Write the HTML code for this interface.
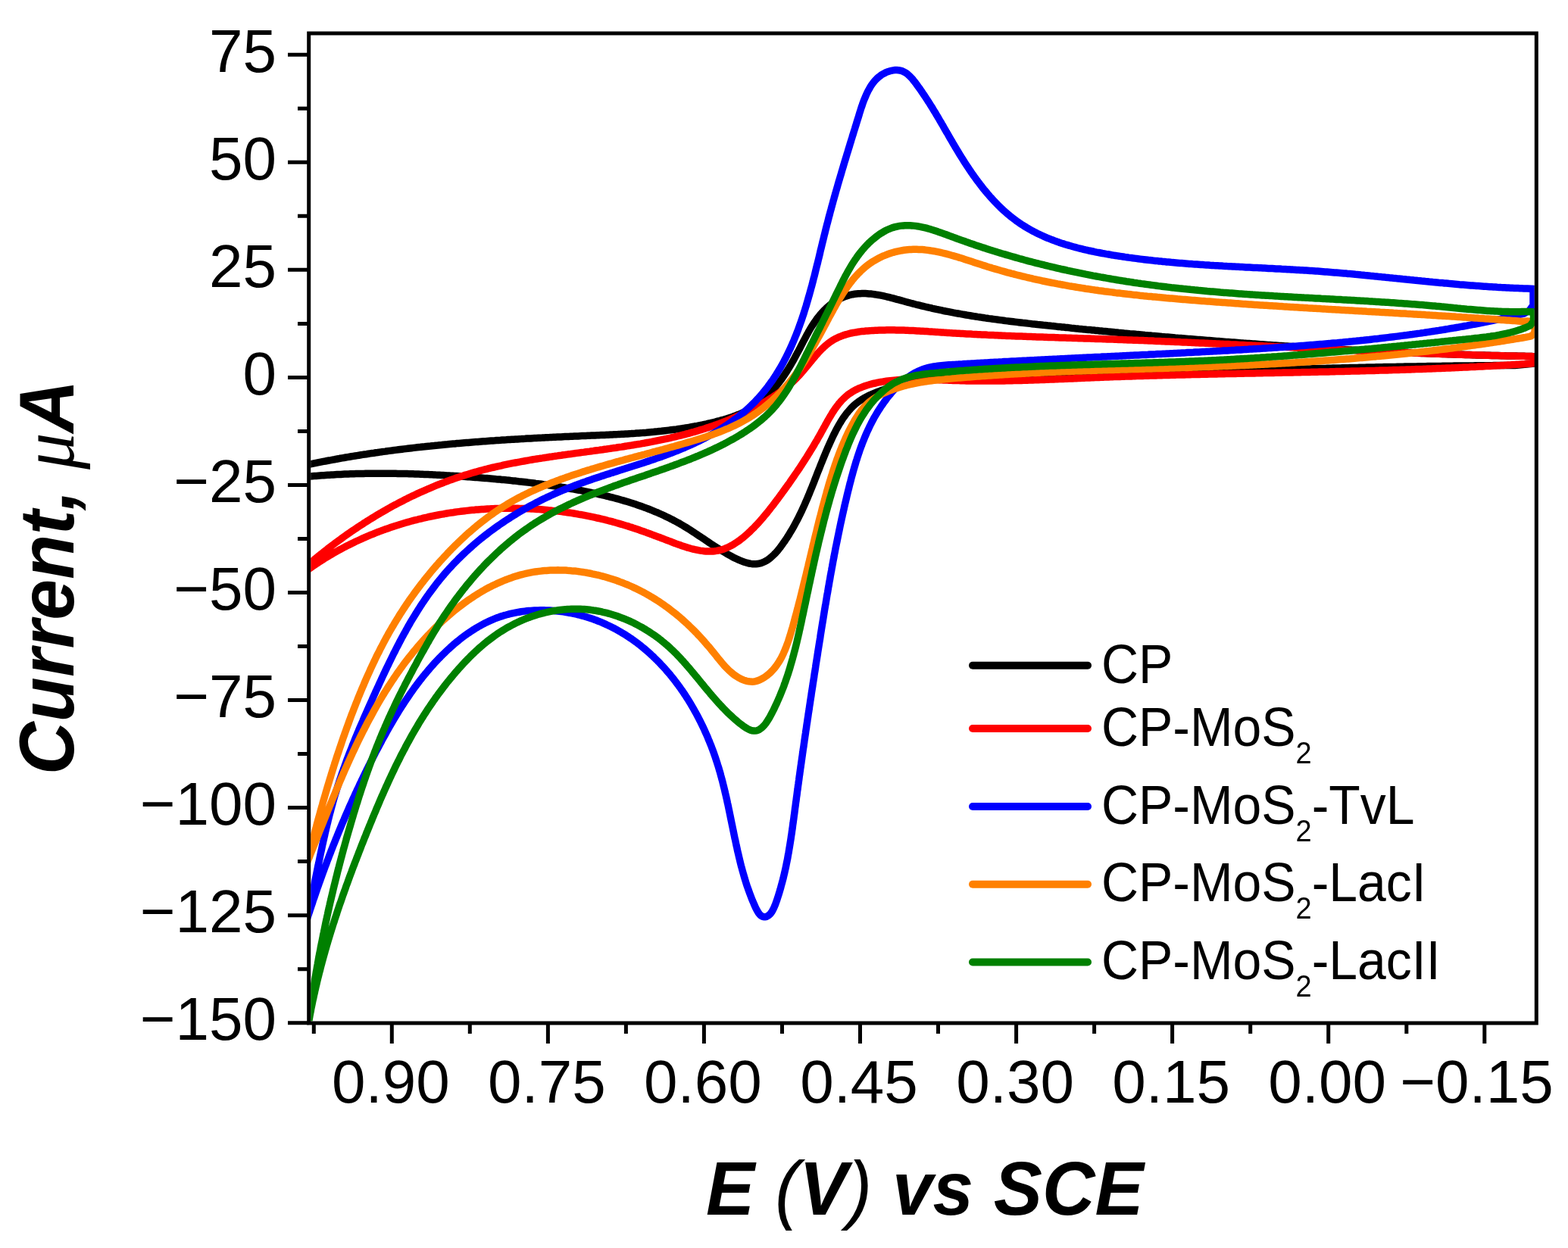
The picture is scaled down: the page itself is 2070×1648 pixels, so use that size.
<!DOCTYPE html><html><head><meta charset="utf-8"><title>Cyclic voltammograms</title>
<style>html,body{margin:0;padding:0;background:#fff;}body{width:2070px;height:1648px;overflow:hidden;}svg{display:block;}text{font-family:"Liberation Sans",Arial,sans-serif;}</style></head><body>
<svg xmlns="http://www.w3.org/2000/svg" width="2070" height="1648" viewBox="0 0 2070 1648">
<rect width="2070" height="1648" fill="#fff"/>
<defs><clipPath id="pc"><rect x="410.2" y="46.5" width="1615.6" height="1302.0"/></clipPath></defs>
<g clip-path="url(#pc)" fill="none" stroke-width="9.5" stroke-linejoin="miter" stroke-miterlimit="4" stroke-linecap="butt">
<path stroke="#000000" d="M395.0,616.0L397.5,615.5 399.9,614.9 402.4,614.4 404.8,613.9 407.3,613.4 409.7,612.9 412.2,612.4 414.6,611.9 417.1,611.4 419.5,610.9 422.0,610.4 424.5,609.9 426.9,609.4 429.4,609.0 431.8,608.5 434.3,608.0 436.8,607.6 439.2,607.1 441.7,606.7 444.2,606.2 446.6,605.8 449.1,605.3 451.6,604.9 454.0,604.5 456.5,604.0 459.0,603.6 461.4,603.2 463.9,602.8 466.4,602.4 468.8,602.0 471.3,601.6 473.8,601.2 476.3,600.8 478.7,600.4 481.2,600.0 483.7,599.7 486.2,599.3 488.6,598.9 491.1,598.5 493.6,598.2 496.1,597.8 498.6,597.5 501.0,597.1 503.5,596.8 506.0,596.4 508.5,596.1 511.0,595.7 513.4,595.4 515.9,595.1 518.4,594.8 520.9,594.4 523.4,594.1 525.9,593.8 528.3,593.5 530.8,593.2 533.3,592.9 535.8,592.6 538.3,592.3 540.8,592.0 543.3,591.7 545.8,591.4 548.2,591.1 550.7,590.8 553.2,590.6 555.7,590.3 558.2,590.0 560.7,589.8 563.2,589.5 565.7,589.2 568.2,589.0 570.7,588.7 573.2,588.5 575.6,588.2 578.1,588.0 580.6,587.7 583.1,587.5 585.6,587.2 588.1,587.0 590.6,586.8 593.1,586.5 595.6,586.3 598.1,586.1 600.6,585.9 603.1,585.6 605.6,585.4 608.1,585.2 610.6,585.0 613.1,584.8 615.6,584.6 618.1,584.4 620.6,584.2 623.1,584.0 625.6,583.8 628.1,583.6 630.6,583.4 633.1,583.2 635.6,583.0 638.1,582.8 640.6,582.7 643.1,582.5 645.6,582.3 648.1,582.1 650.6,581.9 653.1,581.8 655.6,581.6 658.1,581.4 660.6,581.3 663.1,581.1 665.6,580.9 668.1,580.8 670.6,580.6 673.1,580.5 675.6,580.3 678.1,580.2 680.6,580.0 683.1,579.9 685.6,579.7 688.1,579.6 690.6,579.4 693.1,579.3 695.6,579.1 698.1,579.0 700.6,578.9 703.1,578.7 705.6,578.6 708.1,578.5 710.7,578.3 713.2,578.2 715.7,578.1 718.2,577.9 720.7,577.8 723.2,577.7 725.7,577.6 728.2,577.4 730.7,577.3 733.2,577.2 735.7,577.1 738.2,577.0 740.7,576.9 743.2,576.7 745.7,576.6 748.2,576.5 750.7,576.4 753.2,576.3 755.7,576.2 758.2,576.1 760.7,576.0 763.2,575.9 765.7,575.7 768.2,575.6 770.7,575.5 773.2,575.4 775.7,575.3 778.2,575.2 780.7,575.1 783.2,575.0 785.7,574.9 788.2,574.8 790.7,574.7 793.2,574.6 795.7,574.5 798.2,574.4 800.7,574.3 803.2,574.2 805.7,574.0 808.2,573.9 810.7,573.8 813.2,573.7 815.7,573.6 818.2,573.4 820.7,573.3 823.2,573.2 825.7,573.0 828.2,572.9 830.7,572.7 833.2,572.6 835.7,572.4 838.2,572.3 840.7,572.1 843.2,571.9 845.7,571.7 848.2,571.6 850.7,571.4 853.2,571.2 855.7,570.9 858.2,570.7 860.7,570.5 863.1,570.3 865.6,570.0 868.1,569.8 870.6,569.5 873.1,569.3 875.6,569.0 878.1,568.7 880.6,568.4 883.1,568.1 885.5,567.8 888.0,567.5 890.5,567.2 893.0,566.9 895.5,566.5 898.0,566.1 900.5,565.8 902.9,565.4 905.4,565.0 907.9,564.6 910.4,564.2 912.9,563.7 915.3,563.3 917.8,562.8 920.3,562.4 922.8,561.9 925.3,561.4 927.7,560.9 930.2,560.3 932.7,559.8 935.2,559.2 937.6,558.7 940.1,558.1 942.6,557.5 945.0,556.9 947.5,556.2 950.0,555.6 952.4,554.9 954.9,554.2 957.3,553.5 959.7,552.8 962.1,552.0 964.5,551.2 966.9,550.4 969.3,549.5 971.6,548.7 974.0,547.7 976.3,546.8 978.6,545.8 980.8,544.8 983.1,543.7 985.3,542.7 987.5,541.5 989.6,540.4 991.7,539.1 993.8,537.9 995.9,536.6 997.9,535.2 999.9,533.9 1001.8,532.4 1003.8,530.9 1005.6,529.4 1007.5,527.9 1009.3,526.3 1011.1,524.6 1012.9,523.0 1014.6,521.3 1016.3,519.5 1018.0,517.8 1019.6,515.9 1021.3,514.1 1022.9,512.2 1024.4,510.3 1026.0,508.4 1027.5,506.4 1029.0,504.4 1030.5,502.4 1032.0,500.4 1033.4,498.3 1034.8,496.3 1036.2,494.1 1037.6,492.0 1039.0,489.9 1040.3,487.7 1041.7,485.5 1043.0,483.3 1044.3,481.1 1045.6,478.9 1046.9,476.6 1048.1,474.4 1049.4,472.1 1050.6,469.8 1051.8,467.6 1053.0,465.3 1054.3,463.0 1055.5,460.7 1056.7,458.3 1057.9,456.0 1059.1,453.7 1060.3,451.4 1061.5,449.1 1062.7,446.9 1063.9,444.6 1065.1,442.3 1066.4,440.1 1067.6,437.8 1068.9,435.6 1070.2,433.4 1071.5,431.3 1072.9,429.1 1074.3,427.0 1075.7,424.9 1077.1,422.9 1078.5,420.9 1080.0,418.9 1081.6,417.0 1083.1,415.0 1084.8,413.2 1086.4,411.4 1088.1,409.6 1089.9,407.9 1091.6,406.2 1093.5,404.6 1095.4,403.0 1097.3,401.5 1099.3,400.1 1101.4,398.7 1103.5,397.4 1105.6,396.1 1107.8,395.0 1110.0,393.9 1112.3,392.9 1114.5,391.9 1116.8,391.1 1119.1,390.4 1121.4,389.7 1123.7,389.2 1126.0,388.7 1128.3,388.3 1130.7,388.0 1133.0,387.8 1135.4,387.7 1137.8,387.6 1140.1,387.6 1142.5,387.6 1144.9,387.7 1147.3,387.9 1149.7,388.1 1152.2,388.4 1154.6,388.7 1157.0,389.1 1159.5,389.5 1161.9,389.9 1164.4,390.4 1166.8,390.9 1169.3,391.5 1171.7,392.1 1174.2,392.7 1176.7,393.3 1179.1,393.9 1181.6,394.6 1184.1,395.3 1186.6,395.9 1189.1,396.6 1191.5,397.3 1194.0,398.0 1196.5,398.7 1199.0,399.4 1201.5,400.0 1204.0,400.7 1206.4,401.3 1208.9,402.0 1211.4,402.6 1213.9,403.2 1216.4,403.8 1218.8,404.4 1221.3,405.0 1223.8,405.6 1226.3,406.2 1228.8,406.7 1231.2,407.3 1233.7,407.8 1236.2,408.4 1238.7,408.9 1241.1,409.4 1243.6,409.9 1246.1,410.5 1248.6,411.0 1251.0,411.4 1253.5,411.9 1256.0,412.4 1258.5,412.9 1260.9,413.3 1263.4,413.8 1265.9,414.2 1268.4,414.7 1270.8,415.1 1273.3,415.5 1275.8,416.0 1278.3,416.4 1280.7,416.8 1283.2,417.2 1285.7,417.6 1288.1,418.0 1290.6,418.4 1293.1,418.7 1295.6,419.1 1298.0,419.5 1300.5,419.9 1303.0,420.2 1305.5,420.6 1307.9,420.9 1310.4,421.3 1312.9,421.6 1315.3,421.9 1317.8,422.3 1320.3,422.6 1322.8,422.9 1325.2,423.2 1327.7,423.6 1330.2,423.9 1332.7,424.2 1335.1,424.5 1337.6,424.8 1340.1,425.1 1342.6,425.4 1345.0,425.7 1347.5,426.0 1350.0,426.3 1352.5,426.5 1354.9,426.8 1357.4,427.1 1359.9,427.4 1362.4,427.7 1364.8,427.9 1367.3,428.2 1369.8,428.5 1372.3,428.7 1374.7,429.0 1377.2,429.3 1379.7,429.5 1382.2,429.8 1384.6,430.1 1387.1,430.3 1389.6,430.6 1392.1,430.8 1394.6,431.1 1397.0,431.4 1399.5,431.6 1402.0,431.9 1404.5,432.1 1407.0,432.4 1409.4,432.6 1411.9,432.9 1414.4,433.2 1416.9,433.4 1419.4,433.7 1421.9,433.9 1424.3,434.2 1426.8,434.4 1429.3,434.7 1431.8,434.9 1434.3,435.2 1436.8,435.4 1439.2,435.6 1441.7,435.9 1444.2,436.1 1446.7,436.4 1449.2,436.6 1451.7,436.9 1454.2,437.1 1456.7,437.4 1459.1,437.6 1461.6,437.8 1464.1,438.1 1466.6,438.3 1469.1,438.5 1471.6,438.8 1474.1,439.0 1476.6,439.3 1479.1,439.5 1481.5,439.7 1484.0,440.0 1486.5,440.2 1489.0,440.4 1491.5,440.7 1494.0,440.9 1496.5,441.1 1499.0,441.3 1501.5,441.6 1504.0,441.8 1506.5,442.0 1509.0,442.2 1511.5,442.5 1513.9,442.7 1516.4,442.9 1518.9,443.1 1521.4,443.4 1523.9,443.6 1526.4,443.8 1528.9,444.0 1531.4,444.2 1533.9,444.5 1536.4,444.7 1538.9,444.9 1541.4,445.1 1543.9,445.3 1546.4,445.5 1548.9,445.7 1551.4,446.0 1553.9,446.2 1556.4,446.4 1558.9,446.6 1561.4,446.8 1563.9,447.0 1566.4,447.2 1568.9,447.4 1571.4,447.6 1573.9,447.8 1576.4,448.0 1578.9,448.2 1581.4,448.4 1583.9,448.6 1586.4,448.8 1588.9,449.0 1591.4,449.2 1593.9,449.4 1596.4,449.6 1598.9,449.8 1601.4,450.0 1603.9,450.2 1606.4,450.4 1608.9,450.6 1611.4,450.8 1613.9,451.0 1616.4,451.2 1618.9,451.4 1621.4,451.6 1623.9,451.8 1626.4,452.0 1628.9,452.1 1631.4,452.3 1633.9,452.5 1636.4,452.7 1638.9,452.9 1641.4,453.1 1643.9,453.2 1646.4,453.4 1648.9,453.6 1651.4,453.8 1653.9,454.0 1656.4,454.1 1658.9,454.3 1661.4,454.5 1663.9,454.7 1666.4,454.8 1668.9,455.0 1671.4,455.2 1674.0,455.4 1676.5,455.5 1679.0,455.7 1681.5,455.9 1684.0,456.0 1686.5,456.2 1689.0,456.4 1691.5,456.5 1694.0,456.7 1696.5,456.9 1699.0,457.0 1701.5,457.2 1704.0,457.4 1706.5,457.5 1709.0,457.7 1711.5,457.8 1714.0,458.0 1716.5,458.2 1719.1,458.3 1721.6,458.5 1724.1,458.6 1726.6,458.8 1729.1,458.9 1731.6,459.1 1734.1,459.2 1736.6,459.4 1739.1,459.5 1741.6,459.7 1744.1,459.8 1746.6,460.0 1749.1,460.1 1751.6,460.3 1754.1,460.4 1756.6,460.6 1759.2,460.7 1761.7,460.8 1764.2,461.0 1766.7,461.1 1769.2,461.3 1771.7,461.4 1774.2,461.5 1776.7,461.7 1779.2,461.8 1781.7,461.9 1784.2,462.1 1786.7,462.2 1789.2,462.3 1791.7,462.5 1794.2,462.6 1796.8,462.7 1799.3,462.9 1801.8,463.0 1804.3,463.1 1806.8,463.2 1809.3,463.4 1811.8,463.5 1814.3,463.6 1816.8,463.7 1819.3,463.9 1821.8,464.0 1824.3,464.1 1826.8,464.2 1829.3,464.3 1831.8,464.4 1834.4,464.6 1836.9,464.7 1839.4,464.8 1841.9,464.9 1844.4,465.0 1846.9,465.1 1849.4,465.2 1851.9,465.3 1854.4,465.5 1856.9,465.6 1859.4,465.7 1861.9,465.8 1864.4,465.9 1866.9,466.0 1869.4,466.1 1871.9,466.2 1874.4,466.3 1876.9,466.4 1879.5,466.5 1882.0,466.6 1884.5,466.7 1887.0,466.8 1889.5,466.9 1892.0,467.0 1894.5,467.1 1897.0,467.1 1899.5,467.2 1902.0,467.3 1904.5,467.4 1907.0,467.5 1909.5,467.6 1912.0,467.7 1914.5,467.8 1917.0,467.8 1919.5,467.9 1922.0,468.0 1924.5,468.1 1927.0,468.2 1929.5,468.3 1932.0,468.3 1934.5,468.4 1937.0,468.5 1939.5,468.6 1942.0,468.6 1944.5,468.7 1947.0,468.8 1949.5,468.9 1952.0,468.9 1954.5,469.0 1957.0,469.1 1959.5,469.1 1962.0,469.2 1964.5,469.3 1967.0,469.3 1969.5,469.4 1972.0,469.5 1974.5,469.5 1977.0,469.6 1979.5,469.6 1982.0,469.7 1984.5,469.8 1987.0,469.8 1989.5,469.9 1992.0,469.9 1994.5,470.0 1997.0,470.0 1999.5,470.1 2002.0,470.1 2004.5,470.2 2007.0,470.2 2009.5,470.3 2012.0,470.3 2014.5,470.4 2017.0,470.4 2019.5,470.5 2022.0,470.5 2026.0,471.0 2026.0,480.0 2000.0,482.5 1997.5,482.5 1995.0,482.5 1992.5,482.5 1989.9,482.5 1987.4,482.6 1984.9,482.6 1982.4,482.6 1979.9,482.6 1977.4,482.6 1974.8,482.6 1972.3,482.6 1969.8,482.7 1967.3,482.7 1964.8,482.7 1962.3,482.7 1959.8,482.7 1957.3,482.8 1954.7,482.8 1952.2,482.8 1949.7,482.8 1947.2,482.8 1944.7,482.9 1942.2,482.9 1939.7,482.9 1937.2,482.9 1934.7,483.0 1932.2,483.0 1929.6,483.0 1927.1,483.0 1924.6,483.1 1922.1,483.1 1919.6,483.1 1917.1,483.2 1914.6,483.2 1912.1,483.2 1909.6,483.3 1907.1,483.3 1904.6,483.3 1902.1,483.4 1899.6,483.4 1897.0,483.4 1894.5,483.5 1892.0,483.5 1889.5,483.5 1887.0,483.6 1884.5,483.6 1882.0,483.7 1879.5,483.7 1877.0,483.7 1874.5,483.8 1872.0,483.8 1869.5,483.9 1867.0,483.9 1864.5,483.9 1862.0,484.0 1859.5,484.0 1857.0,484.1 1854.5,484.1 1852.0,484.2 1849.5,484.2 1847.0,484.3 1844.5,484.3 1842.0,484.4 1839.5,484.4 1837.0,484.4 1834.5,484.5 1832.0,484.5 1829.4,484.6 1826.9,484.6 1824.4,484.7 1821.9,484.7 1819.4,484.8 1816.9,484.8 1814.4,484.9 1811.9,484.9 1809.4,485.0 1806.9,485.1 1804.4,485.1 1801.9,485.2 1799.4,485.2 1796.9,485.3 1794.4,485.3 1791.9,485.4 1789.4,485.4 1786.9,485.5 1784.4,485.6 1781.9,485.6 1779.4,485.7 1776.9,485.7 1774.5,485.8 1772.0,485.8 1769.5,485.9 1767.0,486.0 1764.5,486.0 1762.0,486.1 1759.5,486.1 1757.0,486.2 1754.5,486.3 1752.0,486.3 1749.5,486.4 1747.0,486.5 1744.5,486.5 1742.0,486.6 1739.5,486.6 1737.0,486.7 1734.5,486.8 1732.0,486.8 1729.5,486.9 1727.0,487.0 1724.5,487.0 1722.0,487.1 1719.5,487.2 1717.0,487.2 1714.5,487.3 1712.0,487.4 1709.5,487.4 1707.0,487.5 1704.5,487.6 1702.0,487.6 1699.5,487.7 1697.0,487.8 1694.5,487.8 1692.0,487.9 1689.5,488.0 1687.0,488.0 1684.5,488.1 1682.0,488.2 1679.5,488.2 1677.1,488.3 1674.6,488.4 1672.1,488.4 1669.6,488.5 1667.1,488.6 1664.6,488.7 1662.1,488.7 1659.6,488.8 1657.1,488.9 1654.6,488.9 1652.1,489.0 1649.6,489.1 1647.1,489.2 1644.6,489.2 1642.1,489.3 1639.6,489.4 1637.1,489.4 1634.6,489.5 1632.1,489.6 1629.6,489.7 1627.1,489.7 1624.6,489.8 1622.1,489.9 1619.6,490.0 1617.1,490.0 1614.6,490.1 1612.1,490.2 1609.6,490.2 1607.1,490.3 1604.6,490.4 1602.1,490.5 1599.6,490.5 1597.1,490.6 1594.6,490.7 1592.2,490.8 1589.7,490.8 1587.2,490.9 1584.7,491.0 1582.2,491.1 1579.7,491.1 1577.2,491.2 1574.7,491.3 1572.2,491.4 1569.7,491.4 1567.2,491.5 1564.7,491.6 1562.2,491.7 1559.7,491.7 1557.2,491.8 1554.7,491.9 1552.2,492.0 1549.7,492.0 1547.2,492.1 1544.7,492.2 1542.2,492.3 1539.7,492.3 1537.2,492.4 1534.7,492.5 1532.2,492.5 1529.7,492.6 1527.2,492.7 1524.7,492.8 1522.2,492.8 1519.7,492.9 1517.2,493.0 1514.7,493.1 1512.2,493.1 1509.7,493.2 1507.2,493.3 1504.7,493.4 1502.2,493.4 1499.7,493.5 1497.2,493.6 1494.7,493.7 1492.1,493.7 1489.6,493.8 1487.1,493.9 1484.6,493.9 1482.1,494.0 1479.6,494.1 1477.1,494.2 1474.6,494.2 1472.1,494.3 1469.6,494.4 1467.1,494.5 1464.6,494.5 1462.1,494.6 1459.6,494.7 1457.1,494.7 1454.6,494.8 1452.1,494.9 1449.6,495.0 1447.1,495.0 1444.6,495.1 1442.1,495.2 1439.6,495.2 1437.0,495.3 1434.5,495.4 1432.0,495.4 1429.5,495.5 1427.0,495.6 1424.5,495.6 1422.0,495.7 1419.5,495.8 1417.0,495.9 1414.5,495.9 1412.0,496.0 1409.5,496.1 1406.9,496.1 1404.4,496.2 1401.9,496.3 1399.4,496.3 1396.9,496.4 1394.4,496.5 1391.9,496.5 1389.4,496.6 1386.9,496.6 1384.3,496.7 1381.8,496.8 1379.3,496.8 1376.8,496.9 1374.3,497.0 1371.8,497.0 1369.3,497.1 1366.8,497.2 1364.2,497.2 1361.7,497.3 1359.2,497.3 1356.7,497.4 1354.2,497.5 1351.7,497.5 1349.1,497.6 1346.6,497.6 1344.1,497.7 1341.6,497.8 1339.1,497.8 1336.6,497.9 1334.0,497.9 1331.5,498.0 1329.0,498.1 1326.5,498.1 1324.0,498.2 1321.5,498.2 1318.9,498.3 1316.4,498.3 1313.9,498.4 1311.4,498.4 1308.9,498.5 1306.3,498.6 1303.8,498.6 1301.3,498.7 1298.8,498.7 1296.2,498.8 1293.7,498.8 1291.2,498.9 1288.7,498.9 1286.2,499.0 1283.6,499.0 1281.1,499.1 1278.6,499.2 1276.1,499.2 1273.5,499.3 1271.0,499.4 1268.5,499.5 1266.0,499.6 1263.5,499.7 1261.0,499.8 1258.5,499.9 1255.9,500.0 1253.4,500.1 1250.9,500.3 1248.4,500.4 1245.9,500.6 1243.4,500.7 1240.9,500.9 1238.4,501.1 1235.9,501.3 1233.5,501.5 1231.0,501.8 1228.5,502.0 1226.0,502.3 1223.5,502.5 1221.1,502.8 1218.6,503.1 1216.1,503.4 1213.7,503.8 1211.2,504.1 1208.8,504.5 1206.3,504.9 1203.9,505.3 1201.4,505.8 1199.0,506.2 1196.6,506.7 1194.1,507.2 1191.7,507.7 1189.3,508.2 1186.9,508.8 1184.5,509.4 1182.1,510.0 1179.7,510.6 1177.3,511.3 1174.9,511.9 1172.6,512.6 1170.2,513.4 1167.8,514.1 1165.5,514.9 1163.1,515.7 1160.8,516.6 1158.5,517.5 1156.1,518.4 1153.8,519.3 1151.5,520.3 1149.3,521.3 1147.0,522.4 1144.8,523.5 1142.6,524.6 1140.5,525.9 1138.3,527.1 1136.3,528.4 1134.2,529.8 1132.3,531.3 1130.3,532.8 1128.4,534.3 1126.6,536.0 1124.9,537.7 1123.1,539.5 1121.5,541.3 1119.9,543.2 1118.3,545.1 1116.7,547.1 1115.3,549.1 1113.8,551.1 1112.4,553.2 1111.0,555.3 1109.7,557.5 1108.4,559.7 1107.1,561.9 1105.9,564.1 1104.6,566.4 1103.4,568.6 1102.3,570.9 1101.1,573.2 1100.0,575.5 1098.9,577.8 1097.8,580.1 1096.8,582.4 1095.7,584.8 1094.7,587.1 1093.6,589.4 1092.6,591.7 1091.6,594.1 1090.6,596.4 1089.6,598.7 1088.7,601.0 1087.7,603.4 1086.8,605.7 1085.8,608.0 1084.9,610.4 1083.9,612.7 1083.0,615.0 1082.1,617.4 1081.2,619.7 1080.2,622.0 1079.3,624.3 1078.4,626.7 1077.5,629.0 1076.6,631.3 1075.7,633.6 1074.8,635.9 1073.9,638.2 1072.9,640.6 1072.0,642.9 1071.1,645.2 1070.1,647.5 1069.2,649.8 1068.3,652.1 1067.3,654.4 1066.4,656.7 1065.4,659.0 1064.4,661.2 1063.4,663.5 1062.4,665.8 1061.4,668.1 1060.4,670.3 1059.3,672.6 1058.3,674.9 1057.2,677.1 1056.1,679.4 1055.0,681.6 1053.9,683.8 1052.8,686.1 1051.6,688.3 1050.4,690.5 1049.2,692.7 1048.0,694.9 1046.8,697.1 1045.5,699.3 1044.2,701.5 1042.9,703.7 1041.6,705.9 1040.2,708.0 1038.9,710.2 1037.4,712.3 1036.0,714.5 1034.5,716.6 1033.0,718.7 1031.5,720.8 1030.0,722.9 1028.4,724.9 1026.8,726.9 1025.1,728.8 1023.4,730.7 1021.7,732.4 1019.9,734.1 1018.1,735.7 1016.3,737.2 1014.5,738.6 1012.6,739.9 1010.6,741.0 1008.6,742.0 1006.6,742.9 1004.5,743.6 1002.4,744.2 1000.3,744.5 998.1,744.8 995.9,744.8 993.6,744.7 991.3,744.4 989.0,744.0 986.7,743.4 984.3,742.8 981.9,742.0 979.6,741.1 977.2,740.2 974.8,739.1 972.4,738.0 970.0,736.9 967.6,735.7 965.3,734.4 962.9,733.1 960.6,731.8 958.3,730.5 956.1,729.1 953.8,727.8 951.6,726.4 949.4,725.0 947.2,723.7 945.0,722.3 942.9,720.9 940.7,719.5 938.6,718.1 936.5,716.7 934.4,715.3 932.3,713.9 930.2,712.4 928.1,711.0 926.0,709.6 923.9,708.2 921.9,706.9 919.8,705.5 917.7,704.1 915.6,702.7 913.6,701.4 911.5,700.0 909.4,698.7 907.3,697.4 905.2,696.1 903.0,694.8 900.9,693.5 898.8,692.3 896.6,691.0 894.4,689.8 892.2,688.6 890.0,687.5 887.8,686.3 885.6,685.2 883.4,684.1 881.1,683.0 878.9,681.9 876.6,680.8 874.4,679.8 872.1,678.8 869.8,677.7 867.5,676.7 865.2,675.8 862.9,674.8 860.6,673.9 858.2,672.9 855.9,672.0 853.6,671.1 851.2,670.3 848.9,669.4 846.5,668.5 844.2,667.7 841.8,666.9 839.4,666.1 837.0,665.3 834.7,664.5 832.3,663.8 829.9,663.0 827.5,662.3 825.1,661.6 822.7,660.9 820.3,660.2 817.9,659.5 815.5,658.8 813.0,658.2 810.6,657.5 808.2,656.9 805.8,656.3 803.3,655.7 800.9,655.1 798.5,654.5 796.0,653.9 793.6,653.3 791.1,652.8 788.7,652.2 786.2,651.7 783.8,651.2 781.3,650.7 778.9,650.1 776.4,649.6 774.0,649.1 771.5,648.7 769.1,648.2 766.6,647.7 764.1,647.2 761.7,646.8 759.2,646.3 756.7,645.9 754.3,645.5 751.8,645.0 749.3,644.6 746.9,644.2 744.4,643.8 741.9,643.4 739.4,643.0 737.0,642.6 734.5,642.2 732.0,641.8 729.6,641.5 727.1,641.1 724.6,640.7 722.1,640.4 719.7,640.0 717.2,639.7 714.7,639.3 712.2,639.0 709.7,638.7 707.3,638.4 704.8,638.0 702.3,637.7 699.8,637.4 697.3,637.1 694.9,636.8 692.4,636.5 689.9,636.2 687.4,635.9 684.9,635.7 682.4,635.4 680.0,635.1 677.5,634.9 675.0,634.6 672.5,634.3 670.0,634.1 667.5,633.8 665.0,633.6 662.5,633.4 660.1,633.1 657.6,632.9 655.1,632.7 652.6,632.4 650.1,632.2 647.6,632.0 645.1,631.8 642.6,631.6 640.1,631.4 637.6,631.2 635.1,631.0 632.6,630.8 630.1,630.6 627.6,630.4 625.1,630.2 622.6,630.0 620.1,629.8 617.6,629.7 615.2,629.5 612.7,629.3 610.2,629.1 607.7,629.0 605.2,628.8 602.7,628.6 600.2,628.5 597.7,628.3 595.2,628.2 592.7,628.0 590.2,627.9 587.6,627.7 585.1,627.6 582.6,627.5 580.1,627.3 577.6,627.2 575.1,627.1 572.6,626.9 570.1,626.8 567.6,626.7 565.1,626.6 562.6,626.5 560.1,626.4 557.6,626.3 555.1,626.2 552.6,626.1 550.1,626.0 547.6,625.9 545.1,625.8 542.6,625.8 540.1,625.7 537.6,625.6 535.1,625.6 532.6,625.5 530.1,625.5 527.5,625.4 525.0,625.4 522.5,625.3 520.0,625.3 517.5,625.2 515.0,625.2 512.5,625.2 510.0,625.2 507.5,625.2 505.0,625.2 502.5,625.2 500.0,625.2 497.5,625.2 495.0,625.2 492.5,625.2 490.0,625.2 487.5,625.3 485.0,625.3 482.5,625.3 480.0,625.4 477.4,625.4 474.9,625.5 472.4,625.5 469.9,625.6 467.4,625.7 464.9,625.8 462.4,625.8 459.9,625.9 457.4,626.0 454.9,626.1 452.4,626.2 449.9,626.4 447.4,626.5 444.9,626.6 442.4,626.7 439.9,626.9 437.4,627.0 434.9,627.2 432.4,627.3 429.9,627.5 427.4,627.7 424.9,627.8 422.4,628.0 419.9,628.2 417.4,628.4 414.9,628.6 412.5,628.8 410.0,629.0 407.5,629.3 405.0,629.5 402.5,629.7 400.0,630.0 397.5,630.2 395.0,630.5"/>
<path stroke="#ff0000" d="M395.0,756.0L396.9,754.4 398.7,752.7 400.6,751.1 402.5,749.4 404.4,747.8 406.2,746.2 408.1,744.6 410.0,743.0 412.0,741.4 413.9,739.8 415.8,738.2 417.7,736.6 419.7,735.0 421.6,733.4 423.6,731.9 425.5,730.3 427.5,728.7 429.4,727.2 431.4,725.7 433.4,724.1 435.4,722.6 437.4,721.1 439.4,719.6 441.4,718.0 443.4,716.5 445.4,715.0 447.4,713.6 449.5,712.1 451.5,710.6 453.5,709.1 455.6,707.7 457.6,706.2 459.7,704.8 461.8,703.4 463.8,701.9 465.9,700.5 468.0,699.1 470.1,697.7 472.2,696.3 474.3,694.9 476.4,693.5 478.5,692.2 480.6,690.8 482.7,689.4 484.8,688.1 487.0,686.8 489.1,685.4 491.2,684.1 493.4,682.8 495.5,681.5 497.7,680.2 499.9,678.9 502.0,677.6 504.2,676.4 506.4,675.1 508.6,673.8 510.7,672.6 512.9,671.4 515.1,670.2 517.3,668.9 519.5,667.7 521.8,666.5 524.0,665.4 526.2,664.2 528.4,663.0 530.6,661.9 532.9,660.7 535.1,659.6 537.4,658.5 539.6,657.3 541.9,656.2 544.1,655.1 546.4,654.1 548.7,653.0 550.9,651.9 553.2,650.9 555.5,649.8 557.8,648.8 560.1,647.8 562.4,646.8 564.6,645.8 567.0,644.8 569.3,643.8 571.6,642.8 573.9,641.9 576.2,640.9 578.5,640.0 580.8,639.1 583.2,638.2 585.5,637.3 587.8,636.4 590.2,635.5 592.5,634.6 594.9,633.8 597.2,633.0 599.6,632.1 601.9,631.3 604.3,630.5 606.7,629.7 609.0,628.9 611.4,628.2 613.8,627.4 616.2,626.7 618.6,626.0 621.0,625.2 623.3,624.5 625.7,623.8 628.1,623.2 630.5,622.5 632.9,621.8 635.3,621.2 637.8,620.5 640.2,619.9 642.6,619.3 645.0,618.7 647.4,618.1 649.8,617.5 652.3,617.0 654.7,616.4 657.1,615.8 659.6,615.3 662.0,614.8 664.4,614.2 666.9,613.7 669.3,613.2 671.8,612.7 674.2,612.2 676.7,611.7 679.1,611.2 681.6,610.8 684.0,610.3 686.5,609.9 689.0,609.4 691.4,609.0 693.9,608.5 696.4,608.1 698.8,607.7 701.3,607.2 703.8,606.8 706.2,606.4 708.7,606.0 711.2,605.6 713.7,605.2 716.1,604.9 718.6,604.5 721.1,604.1 723.6,603.7 726.1,603.3 728.6,603.0 731.0,602.6 733.5,602.2 736.0,601.9 738.5,601.5 741.0,601.2 743.5,600.8 746.0,600.5 748.5,600.1 750.9,599.8 753.4,599.5 755.9,599.1 758.4,598.8 760.9,598.4 763.4,598.1 765.9,597.8 768.4,597.4 770.9,597.1 773.4,596.7 775.9,596.4 778.4,596.1 780.9,595.7 783.3,595.4 785.8,595.0 788.3,594.7 790.8,594.4 793.3,594.0 795.8,593.7 798.3,593.3 800.8,593.0 803.3,592.6 805.8,592.3 808.3,591.9 810.7,591.5 813.2,591.2 815.7,590.8 818.2,590.4 820.7,590.1 823.2,589.7 825.6,589.3 828.1,588.9 830.6,588.5 833.1,588.1 835.6,587.7 838.0,587.3 840.5,586.9 843.0,586.5 845.5,586.1 847.9,585.6 850.4,585.2 852.9,584.7 855.3,584.3 857.8,583.8 860.2,583.4 862.7,582.9 865.2,582.4 867.6,581.9 870.1,581.4 872.5,580.9 875.0,580.4 877.4,579.9 879.9,579.4 882.3,578.8 884.7,578.3 887.2,577.7 889.6,577.2 892.1,576.6 894.5,576.0 896.9,575.4 899.3,574.8 901.8,574.2 904.2,573.6 906.6,572.9 909.0,572.3 911.4,571.6 913.8,570.9 916.2,570.3 918.6,569.6 921.0,568.9 923.4,568.1 925.8,567.4 928.2,566.7 930.6,565.9 933.0,565.1 935.3,564.4 937.7,563.6 940.1,562.8 942.5,561.9 944.8,561.1 947.2,560.2 949.5,559.4 951.9,558.5 954.2,557.6 956.6,556.7 958.9,555.8 961.2,554.8 963.6,553.9 965.9,552.9 968.2,551.9 970.5,550.9 972.8,549.9 975.1,548.9 977.3,547.8 979.6,546.8 981.9,545.7 984.1,544.6 986.4,543.5 988.6,542.4 990.9,541.3 993.1,540.1 995.3,538.9 997.5,537.8 999.7,536.6 1001.9,535.3 1004.1,534.1 1006.2,532.9 1008.4,531.6 1010.5,530.3 1012.6,529.0 1014.8,527.7 1016.9,526.4 1019.0,525.1 1021.0,523.7 1023.1,522.3 1025.2,520.9 1027.2,519.5 1029.2,518.1 1031.3,516.6 1033.3,515.2 1035.2,513.7 1037.2,512.1 1039.1,510.6 1041.1,509.0 1043.0,507.4 1044.8,505.7 1046.7,504.1 1048.5,502.3 1050.3,500.6 1052.1,498.8 1053.9,496.9 1055.6,495.0 1057.3,493.1 1059.0,491.2 1060.7,489.2 1062.3,487.3 1064.0,485.3 1065.6,483.3 1067.3,481.3 1068.9,479.3 1070.5,477.3 1072.2,475.3 1073.8,473.3 1075.5,471.4 1077.1,469.4 1078.8,467.5 1080.5,465.6 1082.2,463.8 1083.9,462.0 1085.7,460.2 1087.5,458.5 1089.3,456.9 1091.1,455.3 1093.0,453.8 1094.9,452.3 1096.9,450.9 1098.9,449.6 1100.9,448.4 1103.0,447.3 1105.1,446.2 1107.3,445.2 1109.5,444.3 1111.7,443.4 1114.0,442.6 1116.3,441.9 1118.6,441.2 1120.9,440.6 1123.3,440.0 1125.7,439.5 1128.1,439.1 1130.6,438.7 1133.0,438.3 1135.5,437.9 1138.0,437.6 1140.5,437.4 1143.0,437.1 1145.5,436.9 1148.0,436.7 1150.5,436.6 1153.0,436.4 1155.5,436.3 1158.0,436.2 1160.5,436.1 1163.0,436.0 1165.5,435.9 1168.1,435.9 1170.6,435.8 1173.1,435.8 1175.6,435.8 1178.1,435.8 1180.6,435.8 1183.1,435.9 1185.6,435.9 1188.2,436.0 1190.7,436.0 1193.2,436.1 1195.7,436.2 1198.2,436.3 1200.7,436.4 1203.2,436.5 1205.8,436.6 1208.3,436.7 1210.8,436.9 1213.3,437.0 1215.8,437.2 1218.3,437.3 1220.8,437.4 1223.3,437.6 1225.9,437.8 1228.4,437.9 1230.9,438.1 1233.4,438.2 1235.9,438.4 1238.4,438.6 1240.9,438.7 1243.4,438.9 1245.9,439.1 1248.5,439.2 1251.0,439.4 1253.5,439.6 1256.0,439.7 1258.5,439.9 1261.0,440.0 1263.5,440.2 1266.0,440.3 1268.5,440.5 1271.0,440.6 1273.6,440.7 1276.1,440.9 1278.6,441.0 1281.1,441.1 1283.6,441.3 1286.1,441.4 1288.6,441.5 1291.1,441.7 1293.6,441.8 1296.1,441.9 1298.6,442.0 1301.1,442.1 1303.6,442.3 1306.2,442.4 1308.7,442.5 1311.2,442.6 1313.7,442.7 1316.2,442.8 1318.7,442.9 1321.2,443.0 1323.7,443.2 1326.2,443.3 1328.7,443.4 1331.2,443.5 1333.7,443.6 1336.2,443.7 1338.7,443.8 1341.2,443.9 1343.7,444.0 1346.2,444.0 1348.7,444.1 1351.2,444.2 1353.7,444.3 1356.3,444.4 1358.8,444.5 1361.3,444.6 1363.8,444.7 1366.3,444.8 1368.8,444.9 1371.3,444.9 1373.8,445.0 1376.3,445.1 1378.8,445.2 1381.3,445.3 1383.8,445.4 1386.3,445.5 1388.8,445.5 1391.3,445.6 1393.8,445.7 1396.3,445.8 1398.8,445.9 1401.3,445.9 1403.8,446.0 1406.3,446.1 1408.8,446.2 1411.3,446.3 1413.8,446.3 1416.3,446.4 1418.8,446.5 1421.3,446.6 1423.8,446.7 1426.3,446.7 1428.8,446.8 1431.3,446.9 1433.8,447.0 1436.3,447.1 1438.8,447.1 1441.3,447.2 1443.8,447.3 1446.3,447.4 1448.8,447.5 1451.3,447.6 1453.8,447.6 1456.3,447.7 1458.8,447.8 1461.3,447.9 1463.8,448.0 1466.3,448.1 1468.8,448.1 1471.3,448.2 1473.8,448.3 1476.3,448.4 1478.8,448.5 1481.3,448.6 1483.8,448.7 1486.3,448.8 1488.8,448.9 1491.4,449.0 1493.9,449.1 1496.4,449.2 1498.9,449.3 1501.4,449.3 1503.9,449.4 1506.4,449.5 1508.9,449.6 1511.4,449.7 1513.9,449.8 1516.4,449.9 1518.9,450.0 1521.4,450.1 1523.9,450.3 1526.4,450.4 1528.9,450.5 1531.4,450.6 1533.9,450.7 1536.4,450.8 1538.9,450.9 1541.4,451.0 1543.9,451.1 1546.4,451.2 1548.9,451.3 1551.4,451.4 1553.9,451.5 1556.4,451.6 1558.9,451.8 1561.4,451.9 1563.9,452.0 1566.4,452.1 1568.9,452.2 1571.4,452.3 1573.9,452.4 1576.4,452.5 1578.9,452.7 1581.4,452.8 1583.9,452.9 1586.4,453.0 1588.9,453.1 1591.4,453.2 1593.9,453.3 1596.4,453.5 1598.9,453.6 1601.4,453.7 1603.9,453.8 1606.5,453.9 1609.0,454.0 1611.5,454.2 1614.0,454.3 1616.5,454.4 1619.0,454.5 1621.5,454.6 1624.0,454.8 1626.5,454.9 1629.0,455.0 1631.5,455.1 1634.0,455.2 1636.5,455.4 1639.0,455.5 1641.5,455.6 1644.0,455.7 1646.5,455.9 1649.0,456.0 1651.5,456.1 1654.0,456.2 1656.5,456.3 1659.0,456.5 1661.5,456.6 1664.0,456.7 1666.5,456.8 1669.0,457.0 1671.5,457.1 1674.0,457.2 1676.5,457.3 1679.0,457.4 1681.5,457.6 1684.0,457.7 1686.5,457.8 1689.0,457.9 1691.5,458.1 1694.1,458.2 1696.6,458.3 1699.1,458.4 1701.6,458.6 1704.1,458.7 1706.6,458.8 1709.1,458.9 1711.6,459.0 1714.1,459.2 1716.6,459.3 1719.1,459.4 1721.6,459.5 1724.1,459.7 1726.6,459.8 1729.1,459.9 1731.6,460.0 1734.1,460.1 1736.6,460.3 1739.1,460.4 1741.6,460.5 1744.1,460.6 1746.6,460.7 1749.1,460.9 1751.6,461.0 1754.1,461.1 1756.6,461.2 1759.1,461.3 1761.6,461.5 1764.1,461.6 1766.6,461.7 1769.2,461.8 1771.7,461.9 1774.2,462.1 1776.7,462.2 1779.2,462.3 1781.7,462.4 1784.2,462.5 1786.7,462.6 1789.2,462.8 1791.7,462.9 1794.2,463.0 1796.7,463.1 1799.2,463.2 1801.7,463.3 1804.2,463.4 1806.7,463.5 1809.2,463.7 1811.7,463.8 1814.2,463.9 1816.7,464.0 1819.2,464.1 1821.7,464.2 1824.2,464.3 1826.7,464.4 1829.2,464.5 1831.7,464.6 1834.2,464.8 1836.7,464.9 1839.2,465.0 1841.8,465.1 1844.3,465.2 1846.8,465.3 1849.3,465.4 1851.8,465.5 1854.3,465.6 1856.8,465.7 1859.3,465.8 1861.8,465.9 1864.3,466.0 1866.8,466.1 1869.3,466.2 1871.8,466.3 1874.3,466.4 1876.8,466.5 1879.3,466.6 1881.8,466.7 1884.3,466.8 1886.8,466.9 1889.3,466.9 1891.8,467.0 1894.3,467.1 1896.8,467.2 1899.3,467.3 1901.8,467.4 1904.3,467.5 1906.8,467.6 1909.3,467.7 1911.9,467.7 1914.4,467.8 1916.9,467.9 1919.4,468.0 1921.9,468.1 1924.4,468.2 1926.9,468.2 1929.4,468.3 1931.9,468.4 1934.4,468.5 1936.9,468.5 1939.4,468.6 1941.9,468.7 1944.4,468.8 1946.9,468.8 1949.4,468.9 1951.9,469.0 1954.4,469.0 1956.9,469.1 1959.4,469.2 1961.9,469.2 1964.4,469.3 1966.9,469.4 1969.4,469.4 1971.9,469.5 1974.4,469.6 1976.9,469.6 1979.4,469.7 1981.9,469.7 1984.5,469.8 1987.0,469.9 1989.5,469.9 1992.0,470.0 1994.5,470.0 1997.0,470.1 1999.5,470.1 2002.0,470.2 2004.5,470.2 2007.0,470.3 2009.5,470.3 2012.0,470.3 2014.5,470.4 2017.0,470.4 2019.5,470.5 2022.0,470.5 2027.0,471.0 2027.0,479.5 2022.0,480.0 2019.5,480.2 2017.0,480.3 2014.5,480.5 2012.0,480.7 2009.5,480.8 2007.0,481.0 2004.5,481.2 2002.0,481.3 1999.5,481.5 1997.0,481.6 1994.5,481.8 1992.0,481.9 1989.5,482.1 1987.0,482.2 1984.5,482.4 1982.0,482.5 1979.5,482.7 1977.0,482.8 1974.5,482.9 1972.0,483.1 1969.5,483.2 1967.0,483.4 1964.5,483.5 1962.0,483.6 1959.5,483.8 1957.0,483.9 1954.5,484.0 1952.0,484.1 1949.5,484.3 1947.0,484.4 1944.5,484.5 1942.0,484.6 1939.5,484.8 1937.0,484.9 1934.5,485.0 1932.0,485.1 1929.5,485.2 1927.0,485.3 1924.5,485.5 1922.0,485.6 1919.5,485.7 1917.0,485.8 1914.5,485.9 1912.0,486.0 1909.5,486.1 1907.0,486.2 1904.5,486.3 1902.0,486.4 1899.5,486.5 1897.0,486.6 1894.4,486.7 1891.9,486.8 1889.4,486.9 1886.9,487.0 1884.4,487.1 1881.9,487.2 1879.4,487.3 1876.9,487.4 1874.4,487.5 1871.9,487.6 1869.4,487.6 1866.9,487.7 1864.4,487.8 1861.9,487.9 1859.4,488.0 1856.9,488.1 1854.4,488.2 1851.9,488.2 1849.4,488.3 1846.8,488.4 1844.3,488.5 1841.8,488.6 1839.3,488.6 1836.8,488.7 1834.3,488.8 1831.8,488.9 1829.3,488.9 1826.8,489.0 1824.3,489.1 1821.8,489.1 1819.3,489.2 1816.8,489.3 1814.3,489.4 1811.8,489.4 1809.2,489.5 1806.7,489.6 1804.2,489.6 1801.7,489.7 1799.2,489.8 1796.7,489.8 1794.2,489.9 1791.7,490.0 1789.2,490.0 1786.7,490.1 1784.2,490.1 1781.7,490.2 1779.2,490.3 1776.7,490.3 1774.1,490.4 1771.6,490.5 1769.1,490.5 1766.6,490.6 1764.1,490.6 1761.6,490.7 1759.1,490.7 1756.6,490.8 1754.1,490.9 1751.6,490.9 1749.1,491.0 1746.6,491.0 1744.1,491.1 1741.5,491.1 1739.0,491.2 1736.5,491.2 1734.0,491.3 1731.5,491.3 1729.0,491.4 1726.5,491.5 1724.0,491.5 1721.5,491.6 1719.0,491.6 1716.5,491.7 1714.0,491.7 1711.4,491.8 1708.9,491.8 1706.4,491.9 1703.9,491.9 1701.4,492.0 1698.9,492.0 1696.4,492.1 1693.9,492.1 1691.4,492.2 1688.9,492.2 1686.4,492.3 1683.9,492.3 1681.4,492.4 1678.8,492.4 1676.3,492.5 1673.8,492.5 1671.3,492.6 1668.8,492.6 1666.3,492.7 1663.8,492.7 1661.3,492.8 1658.8,492.8 1656.3,492.9 1653.8,492.9 1651.3,493.0 1648.8,493.0 1646.3,493.1 1643.7,493.1 1641.2,493.2 1638.7,493.2 1636.2,493.3 1633.7,493.3 1631.2,493.4 1628.7,493.4 1626.2,493.5 1623.7,493.5 1621.2,493.6 1618.7,493.6 1616.2,493.7 1613.7,493.7 1611.2,493.8 1608.7,493.8 1606.1,493.9 1603.6,494.0 1601.1,494.0 1598.6,494.1 1596.1,494.1 1593.6,494.2 1591.1,494.2 1588.6,494.3 1586.1,494.3 1583.6,494.4 1581.1,494.5 1578.6,494.5 1576.1,494.6 1573.6,494.6 1571.1,494.7 1568.6,494.8 1566.1,494.8 1563.6,494.9 1561.1,494.9 1558.5,495.0 1556.0,495.1 1553.5,495.1 1551.0,495.2 1548.5,495.3 1546.0,495.3 1543.5,495.4 1541.0,495.5 1538.5,495.5 1536.0,495.6 1533.5,495.7 1531.0,495.7 1528.5,495.8 1526.0,495.9 1523.5,496.0 1521.0,496.0 1518.5,496.1 1516.0,496.2 1513.5,496.2 1511.0,496.3 1508.5,496.4 1506.0,496.5 1503.5,496.6 1501.0,496.6 1498.5,496.7 1496.0,496.8 1493.5,496.9 1491.0,497.0 1488.5,497.0 1486.0,497.1 1483.5,497.2 1481.0,497.3 1478.5,497.4 1476.0,497.5 1473.5,497.6 1471.0,497.6 1468.5,497.7 1466.0,497.8 1463.5,497.9 1461.0,498.0 1458.5,498.1 1456.0,498.2 1453.5,498.3 1451.0,498.4 1448.5,498.5 1446.0,498.6 1443.5,498.7 1441.0,498.8 1438.5,498.9 1436.0,499.0 1433.5,499.1 1431.0,499.2 1428.5,499.3 1426.0,499.4 1423.5,499.5 1421.0,499.7 1418.5,499.8 1416.0,499.9 1413.5,500.0 1411.0,500.1 1408.5,500.2 1406.0,500.3 1403.5,500.4 1401.0,500.5 1398.5,500.6 1396.1,500.7 1393.6,500.8 1391.1,500.9 1388.6,501.0 1386.1,501.1 1383.6,501.2 1381.1,501.3 1378.6,501.4 1376.1,501.5 1373.6,501.6 1371.1,501.7 1368.6,501.7 1366.1,501.8 1363.6,501.9 1361.1,502.0 1358.6,502.1 1356.1,502.2 1353.6,502.2 1351.1,502.3 1348.6,502.4 1346.1,502.4 1343.6,502.5 1341.1,502.6 1338.6,502.6 1336.0,502.7 1333.5,502.7 1331.0,502.8 1328.5,502.8 1326.0,502.9 1323.5,502.9 1321.0,502.9 1318.5,503.0 1316.0,503.0 1313.5,503.0 1311.0,503.0 1308.5,503.1 1306.0,503.1 1303.4,503.1 1300.9,503.1 1298.4,503.1 1295.9,503.1 1293.4,503.1 1290.9,503.1 1288.4,503.0 1285.8,503.0 1283.3,503.0 1280.8,503.0 1278.3,502.9 1275.8,502.9 1273.3,502.8 1270.7,502.8 1268.2,502.7 1265.7,502.6 1263.2,502.6 1260.6,502.5 1258.1,502.4 1255.6,502.3 1253.1,502.2 1250.5,502.1 1248.0,502.0 1245.5,501.9 1243.0,501.8 1240.4,501.7 1237.9,501.6 1235.4,501.5 1232.8,501.5 1230.3,501.4 1227.8,501.3 1225.3,501.2 1222.7,501.1 1220.2,501.1 1217.7,501.0 1215.2,501.0 1212.6,501.0 1210.1,501.0 1207.6,501.0 1205.1,501.0 1202.6,501.0 1200.1,501.1 1197.5,501.1 1195.0,501.2 1192.5,501.3 1190.0,501.5 1187.5,501.6 1185.0,501.8 1182.5,502.0 1180.0,502.2 1177.5,502.4 1175.0,502.7 1172.6,503.0 1170.1,503.3 1167.6,503.7 1165.1,504.1 1162.7,504.5 1160.2,504.9 1157.7,505.4 1155.3,506.0 1152.8,506.5 1150.4,507.1 1148.0,507.8 1145.6,508.5 1143.3,509.2 1141.0,510.0 1138.7,510.9 1136.4,511.8 1134.1,512.7 1131.9,513.7 1129.8,514.8 1127.7,515.9 1125.6,517.1 1123.6,518.4 1121.6,519.7 1119.6,521.1 1117.8,522.6 1115.9,524.2 1114.2,525.8 1112.5,527.5 1110.8,529.2 1109.2,531.1 1107.6,532.9 1106.1,534.8 1104.6,536.8 1103.1,538.8 1101.7,540.9 1100.3,543.0 1098.9,545.1 1097.6,547.3 1096.3,549.5 1095.0,551.7 1093.7,553.9 1092.4,556.1 1091.2,558.4 1089.9,560.7 1088.7,562.9 1087.4,565.2 1086.2,567.4 1084.9,569.7 1083.7,571.9 1082.5,574.2 1081.2,576.4 1079.9,578.6 1078.7,580.8 1077.4,583.0 1076.1,585.1 1074.9,587.3 1073.6,589.4 1072.3,591.6 1071.0,593.7 1069.7,595.8 1068.4,598.0 1067.1,600.1 1065.8,602.2 1064.5,604.3 1063.1,606.4 1061.8,608.4 1060.5,610.5 1059.1,612.6 1057.8,614.6 1056.4,616.7 1055.1,618.8 1053.7,620.8 1052.3,622.9 1050.9,624.9 1049.5,626.9 1048.1,629.0 1046.7,631.0 1045.3,633.0 1043.9,635.0 1042.5,637.1 1041.1,639.1 1039.6,641.1 1038.2,643.1 1036.7,645.1 1035.3,647.2 1033.8,649.2 1032.3,651.2 1030.9,653.2 1029.4,655.2 1027.9,657.3 1026.4,659.3 1024.8,661.3 1023.3,663.3 1021.8,665.4 1020.3,667.4 1018.7,669.4 1017.1,671.4 1015.6,673.4 1014.0,675.4 1012.4,677.4 1010.7,679.4 1009.1,681.3 1007.4,683.3 1005.8,685.2 1004.1,687.2 1002.4,689.1 1000.7,691.0 998.9,692.9 997.1,694.7 995.4,696.6 993.5,698.4 991.7,700.2 989.9,702.0 988.0,703.8 986.1,705.5 984.2,707.2 982.2,708.8 980.2,710.5 978.2,712.0 976.2,713.6 974.2,715.0 972.1,716.4 970.0,717.8 967.9,719.1 965.8,720.3 963.7,721.4 961.5,722.5 959.3,723.5 957.1,724.4 954.9,725.2 952.6,725.9 950.4,726.5 948.1,727.0 945.8,727.4 943.5,727.7 941.2,727.9 938.8,728.1 936.5,728.1 934.1,728.0 931.8,727.9 929.4,727.7 927.0,727.4 924.6,727.1 922.2,726.7 919.7,726.2 917.3,725.7 914.9,725.1 912.5,724.5 910.0,723.8 907.6,723.1 905.1,722.3 902.7,721.5 900.2,720.7 897.8,719.8 895.4,719.0 892.9,718.1 890.5,717.2 888.1,716.3 885.7,715.3 883.2,714.4 880.8,713.5 878.4,712.6 876.1,711.7 873.7,710.8 871.3,709.8 868.9,709.0 866.6,708.1 864.2,707.2 861.9,706.3 859.5,705.4 857.2,704.6 854.8,703.7 852.5,702.9 850.2,702.0 847.8,701.2 845.5,700.4 843.2,699.6 840.8,698.8 838.5,698.0 836.1,697.2 833.8,696.4 831.4,695.7 829.1,694.9 826.7,694.2 824.3,693.5 822.0,692.8 819.6,692.1 817.2,691.4 814.8,690.7 812.4,690.0 810.1,689.4 807.7,688.7 805.3,688.1 802.8,687.5 800.4,686.8 798.0,686.2 795.6,685.7 793.2,685.1 790.7,684.5 788.3,684.0 785.9,683.4 783.4,682.9 781.0,682.4 778.6,681.9 776.1,681.4 773.6,680.9 771.2,680.4 768.7,679.9 766.3,679.5 763.8,679.1 761.3,678.6 758.9,678.2 756.4,677.8 753.9,677.4 751.4,677.0 749.0,676.7 746.5,676.3 744.0,676.0 741.5,675.6 739.0,675.3 736.5,675.0 734.0,674.7 731.5,674.4 729.0,674.2 726.5,673.9 724.0,673.7 721.5,673.4 719.0,673.2 716.5,673.0 714.0,672.8 711.5,672.6 709.0,672.4 706.4,672.2 703.9,672.1 701.4,672.0 698.9,671.8 696.4,671.7 693.9,671.6 691.3,671.5 688.8,671.4 686.3,671.4 683.8,671.3 681.3,671.3 678.7,671.2 676.2,671.2 673.7,671.2 671.2,671.2 668.6,671.2 666.1,671.2 663.6,671.3 661.1,671.3 658.6,671.4 656.0,671.5 653.5,671.6 651.0,671.7 648.5,671.8 646.0,671.9 643.4,672.0 640.9,672.2 638.4,672.4 635.9,672.5 633.4,672.7 630.9,672.9 628.3,673.1 625.8,673.4 623.3,673.6 620.8,673.8 618.3,674.1 615.8,674.4 613.3,674.7 610.8,675.0 608.3,675.3 605.8,675.6 603.3,675.9 600.8,676.3 598.3,676.7 595.8,677.0 593.3,677.4 590.9,677.8 588.4,678.2 585.9,678.7 583.4,679.1 580.9,679.5 578.5,680.0 576.0,680.5 573.5,681.0 571.1,681.5 568.6,682.0 566.2,682.5 563.7,683.1 561.3,683.6 558.8,684.2 556.4,684.8 553.9,685.3 551.5,686.0 549.1,686.6 546.6,687.2 544.2,687.8 541.8,688.5 539.4,689.2 537.0,689.8 534.6,690.5 532.2,691.3 529.8,692.0 527.4,692.7 525.0,693.5 522.6,694.2 520.2,695.0 517.9,695.8 515.5,696.6 513.1,697.4 510.8,698.2 508.4,699.0 506.1,699.9 503.7,700.8 501.4,701.6 499.0,702.5 496.7,703.4 494.4,704.3 492.1,705.3 489.8,706.2 487.5,707.2 485.2,708.1 482.9,709.1 480.6,710.1 478.3,711.1 476.0,712.2 473.8,713.2 471.5,714.2 469.2,715.3 467.0,716.4 464.8,717.5 462.5,718.6 460.3,719.7 458.1,720.8 455.8,722.0 453.6,723.1 451.4,724.3 449.2,725.5 447.1,726.7 444.9,727.9 442.7,729.1 440.5,730.3 438.4,731.6 436.2,732.9 434.1,734.1 432.0,735.4 429.8,736.7 427.7,738.0 425.6,739.4 423.5,740.7 421.4,742.1 419.3,743.5 417.3,744.8 415.2,746.2 413.1,747.7 411.1,749.1 409.0,750.5 407.0,752.0 405.0,753.4 403.0,754.9 401.0,756.4 399.0,757.9 397.0,759.5 395.0,761.0"/>
<path stroke="#0000ff" d="M404.0,1218.0L404.6,1215.6 405.1,1213.2 405.7,1210.8 406.2,1208.4 406.8,1205.9 407.3,1203.5 407.9,1201.1 408.4,1198.7 408.9,1196.3 409.5,1193.8 410.0,1191.4 410.5,1189.0 411.0,1186.5 411.5,1184.1 412.1,1181.6 412.6,1179.2 413.1,1176.7 413.6,1174.3 414.1,1171.8 414.6,1169.4 415.1,1166.9 415.6,1164.5 416.1,1162.0 416.6,1159.6 417.1,1157.1 417.6,1154.7 418.1,1152.2 418.6,1149.8 419.1,1147.3 419.6,1144.8 420.1,1142.4 420.7,1139.9 421.2,1137.5 421.7,1135.0 422.2,1132.5 422.7,1130.1 423.2,1127.6 423.7,1125.2 424.3,1122.7 424.8,1120.2 425.3,1117.8 425.8,1115.3 426.4,1112.9 426.9,1110.4 427.5,1108.0 428.0,1105.5 428.6,1103.1 429.1,1100.6 429.7,1098.2 430.3,1095.7 430.8,1093.3 431.4,1090.8 432.0,1088.4 432.6,1086.0 433.2,1083.5 433.8,1081.1 434.4,1078.7 435.0,1076.2 435.6,1073.8 436.3,1071.4 436.9,1069.0 437.6,1066.6 438.2,1064.1 438.9,1061.7 439.5,1059.3 440.2,1056.9 440.9,1054.5 441.6,1052.1 442.3,1049.7 443.0,1047.4 443.8,1045.0 444.5,1042.6 445.3,1040.2 446.0,1037.8 446.8,1035.5 447.5,1033.1 448.3,1030.7 449.1,1028.4 449.9,1026.0 450.7,1023.7 451.5,1021.3 452.3,1019.0 453.2,1016.6 454.0,1014.3 454.9,1011.9 455.7,1009.6 456.6,1007.3 457.4,1004.9 458.3,1002.6 459.2,1000.3 460.1,997.9 461.0,995.6 461.9,993.3 462.8,991.0 463.7,988.7 464.6,986.4 465.5,984.0 466.4,981.7 467.4,979.4 468.3,977.1 469.2,974.8 470.2,972.5 471.2,970.2 472.1,967.9 473.1,965.6 474.0,963.3 475.0,961.0 476.0,958.7 477.0,956.4 478.0,954.1 479.0,951.8 479.9,949.5 480.9,947.2 481.9,944.9 482.9,942.6 484.0,940.3 485.0,938.0 486.0,935.8 487.0,933.5 488.0,931.2 489.0,928.9 490.1,926.6 491.1,924.3 492.1,922.0 493.1,919.7 494.2,917.4 495.2,915.1 496.2,912.8 497.3,910.5 498.3,908.3 499.4,906.0 500.4,903.7 501.5,901.4 502.5,899.1 503.6,896.8 504.6,894.5 505.7,892.2 506.8,889.9 507.8,887.7 508.9,885.4 510.0,883.1 511.1,880.8 512.2,878.6 513.3,876.3 514.4,874.0 515.5,871.7 516.6,869.5 517.7,867.2 518.8,865.0 519.9,862.7 521.1,860.5 522.2,858.2 523.3,856.0 524.5,853.7 525.7,851.5 526.8,849.3 528.0,847.0 529.2,844.8 530.3,842.6 531.5,840.4 532.7,838.2 533.9,836.0 535.2,833.8 536.4,831.6 537.6,829.4 538.8,827.2 540.1,825.1 541.3,822.9 542.6,820.7 543.9,818.6 545.2,816.4 546.5,814.3 547.8,812.2 549.1,810.0 550.4,807.9 551.7,805.8 553.1,803.7 554.4,801.6 555.8,799.5 557.1,797.4 558.5,795.4 559.9,793.3 561.3,791.2 562.7,789.2 564.2,787.1 565.6,785.1 567.0,783.1 568.5,781.1 570.0,779.1 571.5,777.1 573.0,775.1 574.5,773.1 576.0,771.2 577.5,769.2 579.1,767.3 580.6,765.4 582.2,763.4 583.8,761.5 585.4,759.6 587.0,757.7 588.6,755.9 590.3,754.0 591.9,752.1 593.6,750.3 595.3,748.5 597.0,746.6 598.7,744.8 600.4,743.0 602.1,741.3 603.9,739.5 605.6,737.7 607.4,736.0 609.2,734.2 611.0,732.5 612.8,730.8 614.6,729.1 616.4,727.4 618.3,725.7 620.1,724.0 622.0,722.4 623.8,720.7 625.7,719.1 627.6,717.5 629.5,715.8 631.5,714.2 633.4,712.6 635.3,711.1 637.3,709.5 639.2,707.9 641.2,706.4 643.2,704.9 645.2,703.3 647.2,701.8 649.2,700.3 651.2,698.9 653.2,697.4 655.3,695.9 657.3,694.5 659.4,693.0 661.4,691.6 663.5,690.2 665.6,688.8 667.7,687.4 669.8,686.0 671.9,684.7 674.0,683.3 676.1,682.0 678.2,680.6 680.4,679.3 682.5,678.0 684.7,676.7 686.8,675.5 689.0,674.2 691.2,672.9 693.4,671.7 695.6,670.5 697.8,669.2 700.0,668.0 702.2,666.8 704.4,665.6 706.6,664.5 708.8,663.3 711.1,662.2 713.3,661.0 715.6,659.9 717.8,658.8 720.1,657.7 722.3,656.6 724.6,655.6 726.9,654.5 729.2,653.5 731.4,652.4 733.7,651.4 736.0,650.4 738.3,649.4 740.6,648.4 742.9,647.4 745.2,646.5 747.6,645.5 749.9,644.6 752.2,643.7 754.5,642.8 756.9,641.9 759.2,641.0 761.5,640.1 763.9,639.2 766.2,638.4 768.6,637.5 770.9,636.7 773.3,635.9 775.6,635.0 778.0,634.2 780.3,633.4 782.7,632.6 785.1,631.8 787.4,631.0 789.8,630.2 792.2,629.4 794.5,628.6 796.9,627.9 799.3,627.1 801.7,626.3 804.0,625.6 806.4,624.8 808.8,624.1 811.2,623.3 813.5,622.6 815.9,621.8 818.3,621.0 820.7,620.3 823.1,619.5 825.4,618.8 827.8,618.0 830.2,617.3 832.6,616.5 834.9,615.8 837.3,615.0 839.7,614.3 842.1,613.5 844.4,612.7 846.8,612.0 849.2,611.2 851.5,610.4 853.9,609.6 856.3,608.9 858.6,608.1 861.0,607.3 863.4,606.5 865.7,605.6 868.1,604.8 870.4,604.0 872.8,603.2 875.1,602.3 877.4,601.5 879.8,600.6 882.1,599.8 884.4,598.9 886.8,598.0 889.1,597.1 891.4,596.2 893.7,595.3 896.0,594.3 898.3,593.4 900.6,592.4 902.9,591.5 905.2,590.5 907.5,589.5 909.8,588.5 912.1,587.4 914.3,586.4 916.6,585.4 918.9,584.3 921.1,583.2 923.4,582.1 925.6,581.0 927.9,579.8 930.1,578.7 932.3,577.5 934.5,576.3 936.8,575.1 939.0,573.9 941.2,572.7 943.3,571.4 945.5,570.1 947.7,568.8 949.9,567.5 952.0,566.1 954.2,564.8 956.3,563.4 958.4,562.0 960.5,560.6 962.6,559.1 964.7,557.7 966.8,556.2 968.8,554.7 970.9,553.2 972.9,551.7 974.9,550.1 976.9,548.5 978.8,546.9 980.8,545.3 982.7,543.7 984.6,542.0 986.5,540.3 988.3,538.6 990.1,536.9 991.9,535.2 993.7,533.4 995.5,531.7 997.2,529.9 998.9,528.1 1000.6,526.3 1002.3,524.4 1003.9,522.6 1005.5,520.7 1007.1,518.8 1008.7,516.9 1010.2,515.0 1011.8,513.0 1013.3,511.1 1014.7,509.1 1016.2,507.1 1017.6,505.1 1019.1,503.1 1020.5,501.1 1021.8,499.0 1023.2,497.0 1024.5,494.9 1025.8,492.8 1027.1,490.7 1028.4,488.6 1029.7,486.5 1030.9,484.4 1032.1,482.2 1033.3,480.1 1034.5,477.9 1035.6,475.7 1036.8,473.5 1037.9,471.3 1039.0,469.1 1040.1,466.9 1041.2,464.7 1042.2,462.4 1043.3,460.2 1044.3,457.9 1045.3,455.7 1046.3,453.4 1047.3,451.1 1048.3,448.8 1049.2,446.5 1050.1,444.2 1051.1,441.9 1052.0,439.5 1052.9,437.2 1053.8,434.9 1054.6,432.5 1055.5,430.2 1056.3,427.8 1057.2,425.4 1058.0,423.1 1058.8,420.7 1059.6,418.3 1060.4,415.9 1061.2,413.5 1061.9,411.1 1062.7,408.7 1063.4,406.3 1064.2,403.9 1064.9,401.4 1065.6,399.0 1066.3,396.6 1067.0,394.1 1067.7,391.7 1068.4,389.3 1069.1,386.8 1069.8,384.4 1070.4,381.9 1071.1,379.5 1071.8,377.0 1072.4,374.6 1073.1,372.1 1073.7,369.6 1074.3,367.2 1075.0,364.7 1075.6,362.3 1076.2,359.8 1076.8,357.3 1077.4,354.9 1078.0,352.4 1078.7,349.9 1079.3,347.5 1079.9,345.0 1080.5,342.5 1081.1,340.1 1081.7,337.6 1082.3,335.2 1082.8,332.7 1083.4,330.2 1084.0,327.8 1084.6,325.3 1085.2,322.9 1085.8,320.4 1086.4,318.0 1087.0,315.6 1087.6,313.1 1088.2,310.7 1088.8,308.3 1089.4,305.8 1090.0,303.4 1090.6,301.0 1091.2,298.6 1091.8,296.2 1092.5,293.8 1093.1,291.4 1093.7,289.0 1094.3,286.6 1095.0,284.2 1095.6,281.8 1096.2,279.4 1096.9,277.0 1097.5,274.7 1098.2,272.3 1098.8,269.9 1099.5,267.6 1100.1,265.2 1100.8,262.8 1101.4,260.5 1102.1,258.1 1102.8,255.7 1103.4,253.4 1104.1,251.0 1104.8,248.7 1105.5,246.3 1106.1,243.9 1106.8,241.6 1107.5,239.2 1108.2,236.9 1108.9,234.5 1109.6,232.1 1110.3,229.8 1111.0,227.4 1111.7,225.0 1112.4,222.7 1113.1,220.3 1113.8,217.9 1114.5,215.6 1115.2,213.2 1116.0,210.8 1116.7,208.4 1117.4,206.0 1118.1,203.6 1118.9,201.2 1119.6,198.8 1120.3,196.4 1121.1,194.0 1121.8,191.6 1122.5,189.2 1123.3,186.8 1124.0,184.3 1124.8,181.9 1125.5,179.5 1126.3,177.0 1127.0,174.6 1127.8,172.1 1128.6,169.6 1129.3,167.2 1130.1,164.7 1130.9,162.2 1131.6,159.7 1132.4,157.2 1133.2,154.7 1134.0,152.2 1134.7,149.7 1135.5,147.1 1136.3,144.6 1137.1,142.1 1138.0,139.6 1138.8,137.1 1139.7,134.7 1140.6,132.2 1141.6,129.8 1142.6,127.5 1143.6,125.2 1144.6,122.9 1145.7,120.6 1146.9,118.4 1148.1,116.3 1149.3,114.2 1150.6,112.2 1152.0,110.3 1153.4,108.4 1154.9,106.7 1156.5,104.9 1158.1,103.3 1159.9,101.8 1161.7,100.4 1163.5,99.0 1165.5,97.8 1167.6,96.7 1169.7,95.6 1172.0,94.7 1174.3,94.0 1176.7,93.3 1179.1,92.9 1181.5,92.6 1183.9,92.5 1186.3,92.7 1188.6,93.1 1190.9,93.8 1193.0,94.7 1195.1,95.8 1197.1,97.1 1199.0,98.7 1200.8,100.4 1202.6,102.2 1204.4,104.1 1206.0,106.2 1207.7,108.3 1209.3,110.4 1210.9,112.6 1212.4,114.7 1214.0,116.9 1215.5,119.0 1217.0,121.2 1218.4,123.3 1219.9,125.5 1221.3,127.6 1222.7,129.8 1224.1,131.9 1225.5,134.1 1226.9,136.2 1228.2,138.4 1229.5,140.5 1230.9,142.6 1232.2,144.8 1233.5,146.9 1234.8,149.0 1236.0,151.2 1237.3,153.3 1238.6,155.4 1239.8,157.5 1241.0,159.7 1242.3,161.8 1243.5,163.9 1244.8,166.0 1246.0,168.2 1247.2,170.3 1248.4,172.4 1249.6,174.5 1250.9,176.6 1252.1,178.8 1253.3,180.9 1254.5,183.0 1255.8,185.1 1257.0,187.2 1258.2,189.4 1259.5,191.5 1260.7,193.6 1262.0,195.7 1263.3,197.9 1264.6,200.0 1265.8,202.1 1267.1,204.2 1268.4,206.3 1269.8,208.5 1271.1,210.6 1272.4,212.7 1273.8,214.8 1275.2,217.0 1276.6,219.1 1278.0,221.2 1279.4,223.3 1280.8,225.4 1282.2,227.5 1283.7,229.6 1285.1,231.7 1286.6,233.7 1288.1,235.8 1289.6,237.9 1291.1,239.9 1292.7,241.9 1294.2,244.0 1295.8,246.0 1297.3,248.0 1298.9,250.0 1300.5,251.9 1302.2,253.9 1303.8,255.8 1305.5,257.7 1307.1,259.7 1308.8,261.5 1310.5,263.4 1312.2,265.3 1314.0,267.1 1315.7,268.9 1317.5,270.7 1319.2,272.5 1321.0,274.2 1322.9,276.0 1324.7,277.7 1326.5,279.3 1328.4,281.0 1330.3,282.6 1332.2,284.2 1334.1,285.8 1336.0,287.3 1338.0,288.8 1340.0,290.3 1342.0,291.8 1344.0,293.2 1346.0,294.6 1348.0,296.0 1350.1,297.3 1352.2,298.6 1354.3,299.9 1356.4,301.2 1358.5,302.4 1360.7,303.6 1362.8,304.8 1365.0,305.9 1367.2,307.1 1369.4,308.2 1371.6,309.2 1373.8,310.3 1376.0,311.3 1378.3,312.3 1380.6,313.3 1382.8,314.3 1385.1,315.2 1387.4,316.1 1389.8,317.0 1392.1,317.9 1394.4,318.7 1396.8,319.6 1399.1,320.4 1401.5,321.2 1403.8,321.9 1406.2,322.7 1408.6,323.4 1411.0,324.1 1413.4,324.8 1415.8,325.5 1418.3,326.2 1420.7,326.8 1423.1,327.5 1425.6,328.1 1428.0,328.7 1430.5,329.3 1432.9,329.9 1435.4,330.4 1437.9,331.0 1440.3,331.5 1442.8,332.0 1445.3,332.6 1447.8,333.1 1450.3,333.5 1452.8,334.0 1455.2,334.5 1457.7,334.9 1460.2,335.4 1462.7,335.8 1465.2,336.2 1467.7,336.7 1470.2,337.1 1472.7,337.5 1475.2,337.9 1477.7,338.3 1480.2,338.6 1482.7,339.0 1485.2,339.4 1487.7,339.7 1490.2,340.1 1492.7,340.4 1495.2,340.8 1497.7,341.1 1500.2,341.4 1502.7,341.8 1505.2,342.1 1507.7,342.4 1510.2,342.7 1512.7,343.0 1515.2,343.3 1517.7,343.6 1520.2,343.8 1522.7,344.1 1525.2,344.4 1527.7,344.6 1530.2,344.9 1532.7,345.1 1535.2,345.4 1537.7,345.6 1540.1,345.9 1542.6,346.1 1545.1,346.3 1547.6,346.6 1550.1,346.8 1552.6,347.0 1555.1,347.2 1557.6,347.4 1560.1,347.6 1562.6,347.8 1565.1,348.0 1567.6,348.2 1570.1,348.4 1572.5,348.6 1575.0,348.8 1577.5,348.9 1580.0,349.1 1582.5,349.3 1585.0,349.5 1587.5,349.6 1590.0,349.8 1592.5,349.9 1595.0,350.1 1597.4,350.3 1599.9,350.4 1602.4,350.6 1604.9,350.7 1607.4,350.8 1609.9,351.0 1612.4,351.1 1614.9,351.3 1617.4,351.4 1619.9,351.6 1622.3,351.7 1624.8,351.8 1627.3,352.0 1629.8,352.1 1632.3,352.2 1634.8,352.3 1637.3,352.5 1639.8,352.6 1642.3,352.7 1644.7,352.9 1647.2,353.0 1649.7,353.1 1652.2,353.2 1654.7,353.4 1657.2,353.5 1659.7,353.6 1662.2,353.7 1664.7,353.8 1667.2,354.0 1669.6,354.1 1672.1,354.2 1674.6,354.4 1677.1,354.5 1679.6,354.6 1682.1,354.7 1684.6,354.9 1687.1,355.0 1689.6,355.1 1692.0,355.3 1694.5,355.4 1697.0,355.5 1699.5,355.7 1702.0,355.8 1704.5,355.9 1707.0,356.1 1709.5,356.2 1712.0,356.4 1714.5,356.5 1717.0,356.7 1719.4,356.8 1721.9,357.0 1724.4,357.1 1726.9,357.3 1729.4,357.5 1731.9,357.6 1734.4,357.8 1736.9,358.0 1739.4,358.1 1741.9,358.3 1744.4,358.5 1746.9,358.7 1749.4,358.9 1751.8,359.1 1754.3,359.3 1756.8,359.5 1759.3,359.7 1761.8,359.9 1764.3,360.1 1766.8,360.3 1769.3,360.5 1771.8,360.7 1774.3,360.9 1776.8,361.1 1779.3,361.4 1781.8,361.6 1784.3,361.8 1786.8,362.0 1789.3,362.3 1791.8,362.5 1794.3,362.7 1796.8,363.0 1799.3,363.2 1801.8,363.5 1804.2,363.7 1806.7,363.9 1809.2,364.2 1811.7,364.4 1814.2,364.7 1816.7,364.9 1819.2,365.2 1821.7,365.4 1824.2,365.7 1826.7,365.9 1829.2,366.2 1831.7,366.4 1834.2,366.7 1836.7,366.9 1839.2,367.2 1841.7,367.4 1844.2,367.7 1846.7,367.9 1849.2,368.2 1851.7,368.5 1854.2,368.7 1856.7,369.0 1859.2,369.2 1861.7,369.5 1864.2,369.7 1866.7,370.0 1869.2,370.2 1871.7,370.5 1874.2,370.7 1876.7,371.0 1879.2,371.2 1881.7,371.5 1884.2,371.7 1886.7,372.0 1889.2,372.2 1891.7,372.5 1894.2,372.7 1896.7,372.9 1899.2,373.2 1901.7,373.4 1904.2,373.6 1906.7,373.9 1909.2,374.1 1911.7,374.3 1914.2,374.6 1916.7,374.8 1919.2,375.0 1921.6,375.2 1924.1,375.4 1926.6,375.7 1929.1,375.9 1931.6,376.1 1934.1,376.3 1936.6,376.5 1939.1,376.7 1941.6,376.9 1944.1,377.1 1946.6,377.3 1949.1,377.5 1951.6,377.6 1954.1,377.8 1956.6,378.0 1959.1,378.2 1961.6,378.3 1964.1,378.5 1966.6,378.7 1969.1,378.8 1971.6,379.0 1974.1,379.1 1976.6,379.3 1979.1,379.4 1981.6,379.6 1984.1,379.7 1986.6,379.8 1989.1,380.0 1991.6,380.1 1994.1,380.2 1996.5,380.3 1999.0,380.4 2001.5,380.5 2004.0,380.6 2006.5,380.7 2009.0,380.8 2011.5,380.9 2014.0,380.9 2016.5,381.0 2024.0,381.5 2024.0,403.0 2019.0,410.0 2012.0,414.0 2009.6,414.6 2007.1,415.2 2004.7,415.8 2002.3,416.3 1999.9,416.9 1997.4,417.5 1995.0,418.0 1992.6,418.6 1990.1,419.1 1987.7,419.7 1985.2,420.2 1982.8,420.7 1980.4,421.3 1977.9,421.8 1975.5,422.3 1973.0,422.8 1970.6,423.4 1968.2,423.9 1965.7,424.4 1963.3,424.9 1960.8,425.4 1958.4,425.8 1955.9,426.3 1953.5,426.8 1951.0,427.3 1948.6,427.8 1946.1,428.2 1943.7,428.7 1941.2,429.2 1938.8,429.6 1936.3,430.1 1933.8,430.5 1931.4,431.0 1928.9,431.4 1926.5,431.8 1924.0,432.3 1921.5,432.7 1919.1,433.1 1916.6,433.5 1914.2,433.9 1911.7,434.4 1909.2,434.8 1906.8,435.2 1904.3,435.6 1901.8,436.0 1899.4,436.4 1896.9,436.7 1894.4,437.1 1892.0,437.5 1889.5,437.9 1887.0,438.3 1884.5,438.6 1882.1,439.0 1879.6,439.4 1877.1,439.7 1874.6,440.1 1872.2,440.4 1869.7,440.8 1867.2,441.1 1864.7,441.5 1862.3,441.8 1859.8,442.1 1857.3,442.5 1854.8,442.8 1852.3,443.1 1849.9,443.4 1847.4,443.8 1844.9,444.1 1842.4,444.4 1839.9,444.7 1837.5,445.0 1835.0,445.3 1832.5,445.6 1830.0,445.9 1827.5,446.2 1825.0,446.5 1822.5,446.8 1820.1,447.1 1817.6,447.4 1815.1,447.6 1812.6,447.9 1810.1,448.2 1807.6,448.5 1805.1,448.7 1802.6,449.0 1800.1,449.3 1797.6,449.5 1795.2,449.8 1792.7,450.0 1790.2,450.3 1787.7,450.5 1785.2,450.8 1782.7,451.0 1780.2,451.3 1777.7,451.5 1775.2,451.7 1772.7,452.0 1770.2,452.2 1767.7,452.4 1765.2,452.7 1762.7,452.9 1760.2,453.1 1757.7,453.3 1755.2,453.6 1752.7,453.8 1750.2,454.0 1747.7,454.2 1745.3,454.4 1742.8,454.6 1740.3,454.8 1737.8,455.0 1735.3,455.2 1732.8,455.4 1730.3,455.6 1727.8,455.8 1725.3,456.0 1722.8,456.2 1720.3,456.4 1717.8,456.6 1715.3,456.8 1712.8,457.0 1710.3,457.2 1707.8,457.3 1705.3,457.5 1702.8,457.7 1700.3,457.9 1697.8,458.1 1695.3,458.2 1692.8,458.4 1690.2,458.6 1687.7,458.7 1685.2,458.9 1682.7,459.1 1680.2,459.2 1677.7,459.4 1675.2,459.6 1672.7,459.7 1670.2,459.9 1667.7,460.0 1665.2,460.2 1662.7,460.4 1660.2,460.5 1657.7,460.7 1655.2,460.8 1652.7,461.0 1650.2,461.1 1647.7,461.3 1645.2,461.4 1642.7,461.6 1640.2,461.7 1637.7,461.9 1635.2,462.0 1632.7,462.1 1630.2,462.3 1627.7,462.4 1625.2,462.6 1622.7,462.7 1620.2,462.9 1617.7,463.0 1615.2,463.1 1612.7,463.3 1610.2,463.4 1607.7,463.5 1605.2,463.7 1602.7,463.8 1600.2,463.9 1597.7,464.1 1595.2,464.2 1592.7,464.3 1590.2,464.5 1587.7,464.6 1585.2,464.7 1582.7,464.9 1580.2,465.0 1577.7,465.1 1575.3,465.3 1572.8,465.4 1570.3,465.5 1567.8,465.6 1565.3,465.8 1562.8,465.9 1560.3,466.0 1557.8,466.2 1555.3,466.3 1552.8,466.4 1550.3,466.5 1547.8,466.7 1545.3,466.8 1542.8,466.9 1540.3,467.0 1537.8,467.2 1535.3,467.3 1532.8,467.4 1530.3,467.5 1527.8,467.6 1525.4,467.8 1522.9,467.9 1520.4,468.0 1517.9,468.1 1515.4,468.3 1512.9,468.4 1510.4,468.5 1507.9,468.6 1505.4,468.7 1502.9,468.9 1500.4,469.0 1497.9,469.1 1495.4,469.2 1492.9,469.3 1490.4,469.5 1488.0,469.6 1485.5,469.7 1483.0,469.8 1480.5,469.9 1478.0,470.1 1475.5,470.2 1473.0,470.3 1470.5,470.4 1468.0,470.5 1465.5,470.7 1463.0,470.8 1460.5,470.9 1458.0,471.0 1455.5,471.1 1453.0,471.3 1450.5,471.4 1448.1,471.5 1445.6,471.6 1443.1,471.7 1440.6,471.9 1438.1,472.0 1435.6,472.1 1433.1,472.2 1430.6,472.3 1428.1,472.5 1425.6,472.6 1423.1,472.7 1420.6,472.8 1418.1,473.0 1415.6,473.1 1413.1,473.2 1410.6,473.3 1408.1,473.4 1405.6,473.6 1403.1,473.7 1400.6,473.8 1398.1,473.9 1395.6,474.1 1393.1,474.2 1390.6,474.3 1388.1,474.4 1385.6,474.5 1383.1,474.7 1380.6,474.8 1378.1,474.9 1375.6,475.0 1373.1,475.2 1370.6,475.3 1368.1,475.4 1365.6,475.6 1363.1,475.7 1360.6,475.8 1358.1,475.9 1355.6,476.1 1353.1,476.2 1350.6,476.3 1348.1,476.5 1345.6,476.6 1343.1,476.7 1340.6,476.9 1338.1,477.0 1335.6,477.1 1333.1,477.2 1330.6,477.4 1328.1,477.5 1325.6,477.6 1323.1,477.8 1320.6,477.9 1318.1,478.1 1315.6,478.2 1313.1,478.3 1310.6,478.5 1308.0,478.6 1305.5,478.7 1303.0,478.9 1300.5,479.0 1298.0,479.2 1295.5,479.3 1293.0,479.5 1290.5,479.6 1288.0,479.7 1285.4,479.9 1282.9,480.0 1280.4,480.2 1277.9,480.3 1275.4,480.5 1272.9,480.6 1270.4,480.8 1267.8,480.9 1265.3,481.1 1262.8,481.2 1260.3,481.4 1257.8,481.5 1255.3,481.7 1252.7,481.8 1250.2,482.0 1247.7,482.2 1245.2,482.4 1242.7,482.7 1240.3,483.0 1237.8,483.3 1235.3,483.6 1232.9,484.0 1230.5,484.5 1228.1,485.0 1225.7,485.5 1223.3,486.1 1221.0,486.8 1218.7,487.6 1216.4,488.4 1214.2,489.3 1211.9,490.3 1209.7,491.4 1207.6,492.5 1205.4,493.8 1203.3,495.1 1201.2,496.4 1199.2,497.8 1197.1,499.3 1195.2,500.8 1193.2,502.4 1191.3,504.1 1189.4,505.7 1187.5,507.5 1185.7,509.3 1183.8,511.1 1182.1,512.9 1180.3,514.8 1178.6,516.7 1176.9,518.6 1175.3,520.6 1173.6,522.5 1172.0,524.5 1170.5,526.5 1169.0,528.6 1167.5,530.6 1166.0,532.7 1164.6,534.7 1163.1,536.8 1161.8,538.9 1160.4,541.0 1159.1,543.1 1157.8,545.2 1156.5,547.4 1155.3,549.5 1154.0,551.7 1152.8,553.9 1151.7,556.1 1150.5,558.3 1149.4,560.5 1148.3,562.7 1147.2,565.0 1146.2,567.2 1145.1,569.4 1144.1,571.7 1143.1,574.0 1142.1,576.3 1141.2,578.6 1140.3,580.9 1139.3,583.2 1138.4,585.5 1137.6,587.8 1136.7,590.1 1135.8,592.5 1135.0,594.8 1134.2,597.2 1133.4,599.5 1132.6,601.9 1131.8,604.3 1131.1,606.7 1130.3,609.0 1129.6,611.4 1128.9,613.8 1128.2,616.2 1127.5,618.6 1126.8,621.0 1126.1,623.4 1125.5,625.8 1124.8,628.3 1124.1,630.7 1123.5,633.1 1122.9,635.5 1122.2,638.0 1121.6,640.4 1121.0,642.8 1120.4,645.3 1119.8,647.7 1119.2,650.1 1118.6,652.6 1118.0,655.0 1117.5,657.4 1116.9,659.9 1116.3,662.3 1115.7,664.8 1115.2,667.2 1114.6,669.6 1114.1,672.1 1113.5,674.5 1113.0,677.0 1112.4,679.4 1111.9,681.9 1111.3,684.3 1110.8,686.8 1110.3,689.2 1109.7,691.7 1109.2,694.1 1108.7,696.6 1108.2,699.0 1107.7,701.5 1107.2,703.9 1106.7,706.4 1106.2,708.8 1105.7,711.3 1105.2,713.7 1104.7,716.2 1104.2,718.6 1103.7,721.1 1103.2,723.5 1102.7,726.0 1102.3,728.5 1101.8,730.9 1101.3,733.4 1100.9,735.8 1100.4,738.3 1099.9,740.8 1099.5,743.2 1099.0,745.7 1098.6,748.1 1098.1,750.6 1097.7,753.1 1097.2,755.5 1096.8,758.0 1096.3,760.4 1095.9,762.9 1095.5,765.4 1095.0,767.8 1094.6,770.3 1094.2,772.8 1093.7,775.2 1093.3,777.7 1092.9,780.2 1092.5,782.6 1092.0,785.1 1091.6,787.6 1091.2,790.0 1090.8,792.5 1090.4,795.0 1090.0,797.4 1089.5,799.9 1089.1,802.4 1088.7,804.8 1088.3,807.3 1087.9,809.8 1087.5,812.2 1087.1,814.7 1086.7,817.2 1086.3,819.7 1085.9,822.1 1085.5,824.6 1085.1,827.1 1084.7,829.5 1084.3,832.0 1083.9,834.5 1083.5,836.9 1083.1,839.4 1082.8,841.9 1082.4,844.4 1082.0,846.8 1081.6,849.3 1081.2,851.8 1080.8,854.2 1080.4,856.7 1080.0,859.2 1079.6,861.7 1079.3,864.1 1078.9,866.6 1078.5,869.1 1078.1,871.5 1077.7,874.0 1077.3,876.5 1076.9,878.9 1076.6,881.4 1076.2,883.9 1075.8,886.4 1075.4,888.8 1075.0,891.3 1074.7,893.8 1074.3,896.2 1073.9,898.7 1073.5,901.2 1073.1,903.6 1072.8,906.1 1072.4,908.6 1072.0,911.1 1071.6,913.5 1071.2,916.0 1070.9,918.5 1070.5,920.9 1070.1,923.4 1069.7,925.9 1069.4,928.4 1069.0,930.8 1068.6,933.3 1068.3,935.8 1067.9,938.3 1067.5,940.7 1067.1,943.2 1066.8,945.7 1066.4,948.1 1066.0,950.6 1065.7,953.1 1065.3,955.6 1064.9,958.0 1064.6,960.5 1064.2,963.0 1063.8,965.5 1063.5,967.9 1063.1,970.4 1062.7,972.9 1062.4,975.4 1062.0,977.8 1061.7,980.3 1061.3,982.8 1061.0,985.3 1060.6,987.7 1060.2,990.2 1059.9,992.7 1059.5,995.2 1059.2,997.7 1058.8,1000.1 1058.5,1002.6 1058.1,1005.1 1057.8,1007.6 1057.4,1010.1 1057.1,1012.5 1056.7,1015.0 1056.4,1017.5 1056.0,1020.0 1055.7,1022.5 1055.3,1024.9 1055.0,1027.4 1054.7,1029.9 1054.3,1032.4 1054.0,1034.9 1053.6,1037.4 1053.3,1039.9 1053.0,1042.3 1052.6,1044.8 1052.3,1047.3 1052.0,1049.8 1051.6,1052.3 1051.3,1054.8 1051.0,1057.3 1050.6,1059.7 1050.3,1062.2 1050.0,1064.7 1049.6,1067.2 1049.3,1069.7 1049.0,1072.2 1048.7,1074.7 1048.3,1077.2 1048.0,1079.7 1047.7,1082.1 1047.3,1084.6 1047.0,1087.1 1046.6,1089.6 1046.3,1092.1 1046.0,1094.5 1045.6,1097.0 1045.3,1099.5 1044.9,1102.0 1044.5,1104.4 1044.2,1106.9 1043.8,1109.3 1043.4,1111.8 1043.0,1114.2 1042.6,1116.7 1042.2,1119.1 1041.8,1121.6 1041.4,1124.0 1041.0,1126.4 1040.5,1128.8 1040.1,1131.3 1039.7,1133.7 1039.2,1136.1 1038.7,1138.5 1038.2,1140.9 1037.8,1143.2 1037.3,1145.6 1036.7,1148.0 1036.2,1150.4 1035.7,1152.7 1035.1,1155.1 1034.5,1157.5 1034.0,1159.9 1033.3,1162.4 1032.7,1164.8 1032.0,1167.3 1031.3,1169.8 1030.6,1172.4 1029.9,1175.0 1029.1,1177.6 1028.3,1180.3 1027.4,1183.1 1026.5,1185.9 1025.6,1188.7 1024.6,1191.5 1023.6,1194.2 1022.5,1196.9 1021.4,1199.4 1020.2,1201.7 1019.0,1203.9 1017.7,1205.8 1016.3,1207.4 1014.8,1208.7 1013.3,1209.7 1011.8,1210.4 1010.2,1210.8 1008.7,1210.8 1007.2,1210.5 1005.7,1209.8 1004.2,1208.8 1002.8,1207.4 1001.5,1205.7 1000.3,1203.8 999.1,1201.7 997.9,1199.4 996.8,1197.0 995.7,1194.6 994.7,1192.1 993.6,1189.7 992.6,1187.2 991.7,1184.8 990.7,1182.3 989.8,1179.9 988.9,1177.4 988.0,1175.0 987.2,1172.5 986.3,1170.1 985.5,1167.7 984.7,1165.2 984.0,1162.8 983.2,1160.3 982.5,1157.9 981.8,1155.4 981.1,1153.0 980.4,1150.5 979.7,1148.1 979.1,1145.7 978.4,1143.2 977.8,1140.8 977.2,1138.3 976.6,1135.9 976.0,1133.4 975.4,1131.0 974.9,1128.6 974.3,1126.1 973.7,1123.7 973.2,1121.2 972.7,1118.8 972.1,1116.4 971.6,1113.9 971.1,1111.5 970.6,1109.0 970.0,1106.6 969.5,1104.1 969.0,1101.7 968.5,1099.3 968.0,1096.8 967.5,1094.4 967.0,1091.9 966.5,1089.5 966.0,1087.1 965.5,1084.6 965.0,1082.2 964.5,1079.7 964.0,1077.3 963.5,1074.9 963.0,1072.4 962.5,1070.0 962.0,1067.6 961.5,1065.1 961.0,1062.7 960.4,1060.3 959.9,1057.8 959.4,1055.4 958.8,1053.0 958.3,1050.6 957.7,1048.1 957.1,1045.7 956.6,1043.3 956.0,1040.9 955.4,1038.5 954.8,1036.1 954.2,1033.7 953.6,1031.2 952.9,1028.8 952.3,1026.4 951.6,1024.0 951.0,1021.6 950.3,1019.2 949.6,1016.8 948.9,1014.4 948.2,1012.1 947.4,1009.7 946.7,1007.3 945.9,1004.9 945.1,1002.5 944.3,1000.1 943.5,997.8 942.7,995.4 941.8,993.0 941.0,990.7 940.1,988.3 939.2,985.9 938.3,983.6 937.3,981.3 936.4,978.9 935.4,976.6 934.5,974.3 933.5,971.9 932.5,969.6 931.4,967.3 930.4,965.0 929.4,962.7 928.3,960.4 927.2,958.1 926.1,955.9 925.0,953.6 923.8,951.3 922.7,949.1 921.5,946.8 920.3,944.6 919.2,942.4 917.9,940.2 916.7,938.0 915.5,935.8 914.2,933.6 912.9,931.4 911.6,929.2 910.3,927.1 909.0,924.9 907.7,922.8 906.3,920.7 905.0,918.6 903.6,916.5 902.2,914.4 900.8,912.3 899.3,910.3 897.9,908.2 896.4,906.2 894.9,904.1 893.4,902.1 891.9,900.1 890.4,898.2 888.9,896.2 887.3,894.2 885.7,892.3 884.2,890.4 882.5,888.5 880.9,886.6 879.3,884.7 877.7,882.8 876.0,881.0 874.3,879.2 872.6,877.4 870.9,875.6 869.2,873.8 867.4,872.0 865.7,870.3 863.9,868.6 862.1,866.8 860.3,865.2 858.5,863.5 856.7,861.8 854.8,860.2 853.0,858.6 851.1,857.0 849.2,855.4 847.3,853.9 845.4,852.3 843.4,850.8 841.5,849.3 839.5,847.8 837.5,846.4 835.5,845.0 833.5,843.5 831.5,842.2 829.4,840.8 827.4,839.5 825.3,838.1 823.2,836.8 821.1,835.6 819.0,834.3 816.8,833.1 814.7,831.9 812.5,830.7 810.3,829.5 808.2,828.4 805.9,827.3 803.7,826.2 801.5,825.2 799.2,824.1 796.9,823.1 794.7,822.1 792.4,821.2 790.0,820.3 787.7,819.3 785.4,818.5 783.0,817.6 780.6,816.8 778.3,816.0 775.8,815.2 773.4,814.5 771.0,813.8 768.6,813.1 766.1,812.5 763.6,811.8 761.2,811.2 758.7,810.7 756.2,810.1 753.7,809.6 751.2,809.2 748.7,808.7 746.1,808.3 743.6,807.9 741.1,807.6 738.5,807.2 736.0,807.0 733.4,806.7 730.9,806.5 728.3,806.3 725.8,806.1 723.2,806.0 720.7,805.9 718.1,805.8 715.6,805.8 713.0,805.8 710.5,805.9 707.9,805.9 705.4,806.0 702.9,806.2 700.3,806.4 697.8,806.6 695.3,806.8 692.8,807.1 690.3,807.4 687.8,807.8 685.3,808.2 682.8,808.6 680.3,809.1 677.9,809.6 675.4,810.1 673.0,810.7 670.6,811.3 668.1,812.0 665.7,812.6 663.4,813.4 661.0,814.1 658.6,815.0 656.3,815.8 654.0,816.7 651.7,817.6 649.4,818.6 647.1,819.6 644.9,820.6 642.6,821.7 640.4,822.8 638.2,823.9 636.0,825.1 633.8,826.3 631.7,827.5 629.5,828.8 627.4,830.0 625.3,831.4 623.2,832.7 621.1,834.1 619.1,835.5 617.0,836.9 615.0,838.3 613.0,839.8 611.0,841.3 609.0,842.8 607.0,844.4 605.1,845.9 603.1,847.5 601.2,849.1 599.3,850.7 597.4,852.4 595.5,854.0 593.7,855.7 591.8,857.4 590.0,859.1 588.2,860.8 586.4,862.6 584.6,864.3 582.8,866.1 581.1,867.9 579.4,869.6 577.6,871.5 575.9,873.3 574.2,875.1 572.5,876.9 570.9,878.8 569.2,880.6 567.6,882.5 566.0,884.4 564.4,886.3 562.8,888.2 561.2,890.1 559.6,892.1 558.0,894.0 556.5,896.0 554.9,897.9 553.4,899.9 551.9,901.9 550.4,903.9 548.9,905.9 547.4,907.9 546.0,909.9 544.5,912.0 543.1,914.0 541.6,916.0 540.2,918.1 538.8,920.2 537.4,922.2 536.0,924.3 534.6,926.4 533.2,928.5 531.9,930.6 530.5,932.7 529.2,934.8 527.8,937.0 526.5,939.1 525.2,941.2 523.9,943.4 522.6,945.5 521.3,947.7 520.0,949.8 518.7,952.0 517.5,954.2 516.2,956.3 514.9,958.5 513.7,960.7 512.4,962.9 511.2,965.1 510.0,967.3 508.8,969.5 507.6,971.7 506.3,973.9 505.1,976.1 503.9,978.3 502.8,980.5 501.6,982.7 500.4,984.9 499.2,987.2 498.1,989.4 496.9,991.6 495.7,993.8 494.6,996.1 493.4,998.3 492.3,1000.5 491.1,1002.8 490.0,1005.0 488.9,1007.2 487.8,1009.5 486.6,1011.7 485.5,1014.0 484.4,1016.2 483.3,1018.5 482.2,1020.7 481.1,1023.0 480.0,1025.2 478.9,1027.5 477.8,1029.7 476.8,1032.0 475.7,1034.2 474.6,1036.5 473.6,1038.8 472.5,1041.0 471.4,1043.3 470.4,1045.6 469.3,1047.8 468.3,1050.1 467.3,1052.4 466.2,1054.6 465.2,1056.9 464.2,1059.2 463.1,1061.5 462.1,1063.7 461.1,1066.0 460.1,1068.3 459.1,1070.6 458.1,1072.9 457.1,1075.2 456.1,1077.5 455.1,1079.8 454.2,1082.1 453.2,1084.3 452.2,1086.6 451.2,1088.9 450.3,1091.2 449.3,1093.5 448.4,1095.8 447.4,1098.2 446.5,1100.5 445.5,1102.8 444.6,1105.1 443.6,1107.4 442.7,1109.7 441.8,1112.0 440.9,1114.3 439.9,1116.7 439.0,1119.0 438.1,1121.3 437.2,1123.6 436.3,1126.0 435.4,1128.3 434.5,1130.6 433.6,1132.9 432.7,1135.3 431.8,1137.6 431.0,1139.9 430.1,1142.3 429.2,1144.6 428.3,1147.0 427.5,1149.3 426.6,1151.7 425.8,1154.0 424.9,1156.4 424.1,1158.7 423.2,1161.1 422.4,1163.4 421.5,1165.8 420.7,1168.1 419.9,1170.5 419.0,1172.8 418.2,1175.2 417.4,1177.6 416.6,1179.9 415.8,1182.3 415.0,1184.7 414.2,1187.0 413.3,1189.4 412.6,1191.8 411.8,1194.2 411.0,1196.5 410.2,1198.9 409.4,1201.3 408.6,1203.7 407.8,1206.1 407.1,1208.4 406.3,1210.8 405.5,1213.2 404.8,1215.6 404.0,1218.0"/>
<path stroke="#ff8000" d="M405.0,1140.0L405.6,1137.6 406.2,1135.1 406.8,1132.7 407.5,1130.3 408.1,1127.9 408.7,1125.4 409.3,1123.0 409.9,1120.6 410.6,1118.2 411.2,1115.7 411.8,1113.3 412.4,1110.9 413.1,1108.5 413.7,1106.0 414.3,1103.6 415.0,1101.2 415.6,1098.8 416.3,1096.4 416.9,1093.9 417.6,1091.5 418.2,1089.1 418.9,1086.7 419.5,1084.3 420.2,1081.8 420.8,1079.4 421.5,1077.0 422.2,1074.6 422.9,1072.2 423.5,1069.8 424.2,1067.4 424.9,1064.9 425.6,1062.5 426.2,1060.1 426.9,1057.7 427.6,1055.3 428.3,1052.9 429.0,1050.5 429.7,1048.1 430.4,1045.7 431.1,1043.3 431.8,1040.9 432.5,1038.5 433.3,1036.1 434.0,1033.7 434.7,1031.3 435.4,1028.9 436.2,1026.5 436.9,1024.1 437.6,1021.7 438.4,1019.3 439.1,1016.9 439.9,1014.5 440.6,1012.1 441.4,1009.7 442.1,1007.3 442.9,1005.0 443.7,1002.6 444.4,1000.2 445.2,997.8 446.0,995.4 446.8,993.1 447.6,990.7 448.4,988.3 449.2,985.9 450.0,983.6 450.8,981.2 451.6,978.8 452.4,976.5 453.2,974.1 454.1,971.7 454.9,969.4 455.7,967.0 456.6,964.7 457.4,962.3 458.2,960.0 459.1,957.6 460.0,955.3 460.8,952.9 461.7,950.6 462.6,948.2 463.4,945.9 464.3,943.5 465.2,941.2 466.1,938.9 467.0,936.5 467.9,934.2 468.8,931.9 469.7,929.5 470.7,927.2 471.6,924.9 472.5,922.6 473.4,920.2 474.4,917.9 475.3,915.6 476.3,913.3 477.2,911.0 478.2,908.7 479.2,906.4 480.2,904.1 481.1,901.8 482.1,899.5 483.1,897.2 484.1,894.9 485.1,892.6 486.2,890.3 487.2,888.1 488.2,885.8 489.2,883.5 490.3,881.2 491.3,879.0 492.4,876.7 493.5,874.4 494.6,872.2 495.6,869.9 496.7,867.7 497.8,865.4 498.9,863.2 500.1,861.0 501.2,858.7 502.3,856.5 503.5,854.3 504.6,852.1 505.8,849.9 506.9,847.7 508.1,845.5 509.3,843.3 510.5,841.1 511.7,838.9 512.9,836.7 514.2,834.5 515.4,832.3 516.7,830.2 517.9,828.0 519.2,825.9 520.5,823.7 521.8,821.6 523.1,819.4 524.4,817.3 525.7,815.2 527.0,813.0 528.3,810.9 529.7,808.8 531.1,806.7 532.4,804.6 533.8,802.5 535.2,800.4 536.6,798.3 538.0,796.3 539.4,794.2 540.8,792.1 542.3,790.1 543.7,788.0 545.2,786.0 546.6,784.0 548.1,781.9 549.6,779.9 551.1,777.9 552.6,775.9 554.1,773.9 555.6,771.9 557.1,769.9 558.7,768.0 560.2,766.0 561.8,764.0 563.4,762.1 564.9,760.1 566.5,758.2 568.1,756.2 569.7,754.3 571.3,752.4 573.0,750.5 574.6,748.6 576.2,746.7 577.9,744.8 579.5,742.9 581.2,741.1 582.9,739.2 584.6,737.4 586.3,735.5 588.0,733.7 589.7,731.9 591.4,730.0 593.1,728.2 594.9,726.4 596.6,724.6 598.4,722.9 600.1,721.1 601.9,719.3 603.7,717.6 605.5,715.8 607.3,714.1 609.1,712.4 610.9,710.7 612.8,709.0 614.6,707.3 616.5,705.6 618.3,703.9 620.2,702.3 622.1,700.7 624.0,699.0 625.9,697.4 627.8,695.8 629.7,694.2 631.6,692.6 633.6,691.1 635.5,689.5 637.5,688.0 639.5,686.5 641.4,685.0 643.4,683.5 645.4,682.0 647.5,680.5 649.5,679.1 651.5,677.6 653.6,676.2 655.6,674.8 657.7,673.4 659.8,672.0 661.9,670.7 664.0,669.3 666.1,668.0 668.2,666.7 670.3,665.4 672.5,664.1 674.6,662.9 676.8,661.6 679.0,660.4 681.2,659.2 683.4,658.0 685.6,656.8 687.8,655.7 690.0,654.5 692.2,653.4 694.5,652.3 696.8,651.2 699.0,650.1 701.3,649.0 703.6,648.0 705.9,646.9 708.1,645.9 710.4,644.9 712.8,643.9 715.1,642.9 717.4,641.9 719.7,641.0 722.0,640.0 724.4,639.1 726.7,638.2 729.1,637.2 731.4,636.3 733.8,635.4 736.1,634.6 738.5,633.7 740.8,632.8 743.2,632.0 745.6,631.1 747.9,630.3 750.3,629.5 752.7,628.6 755.0,627.8 757.4,627.0 759.8,626.2 762.2,625.5 764.6,624.7 766.9,623.9 769.3,623.1 771.7,622.4 774.1,621.6 776.5,620.9 778.9,620.2 781.3,619.4 783.7,618.7 786.0,618.0 788.4,617.3 790.8,616.6 793.2,615.9 795.6,615.2 798.0,614.5 800.4,613.8 802.8,613.1 805.2,612.4 807.7,611.8 810.1,611.1 812.5,610.4 814.9,609.7 817.3,609.1 819.7,608.4 822.1,607.8 824.5,607.1 826.9,606.4 829.3,605.8 831.8,605.1 834.2,604.5 836.6,603.9 839.0,603.2 841.4,602.6 843.8,601.9 846.2,601.3 848.7,600.6 851.1,600.0 853.5,599.3 855.9,598.7 858.3,598.0 860.8,597.4 863.2,596.7 865.6,596.1 868.0,595.4 870.4,594.8 872.9,594.1 875.3,593.5 877.7,592.8 880.1,592.2 882.5,591.5 884.9,590.8 887.4,590.1 889.8,589.5 892.2,588.8 894.6,588.1 897.0,587.4 899.4,586.7 901.9,586.0 904.3,585.3 906.7,584.6 909.1,583.9 911.5,583.2 913.9,582.5 916.3,581.8 918.8,581.0 921.2,580.3 923.6,579.5 926.0,578.8 928.4,578.0 930.8,577.2 933.1,576.4 935.5,575.6 937.9,574.8 940.3,574.0 942.6,573.1 945.0,572.3 947.4,571.4 949.7,570.5 952.0,569.6 954.4,568.6 956.7,567.7 959.0,566.7 961.3,565.8 963.6,564.8 965.8,563.7 968.1,562.7 970.4,561.6 972.6,560.5 974.8,559.4 977.0,558.3 979.2,557.1 981.4,555.9 983.6,554.7 985.8,553.5 987.9,552.2 990.0,550.9 992.1,549.6 994.2,548.2 996.3,546.8 998.4,545.4 1000.4,544.0 1002.4,542.5 1004.4,541.0 1006.4,539.5 1008.4,538.0 1010.3,536.4 1012.3,534.8 1014.2,533.2 1016.1,531.6 1017.9,530.0 1019.8,528.3 1021.6,526.6 1023.5,524.9 1025.3,523.1 1027.0,521.4 1028.8,519.6 1030.5,517.8 1032.3,516.0 1034.0,514.2 1035.6,512.3 1037.3,510.5 1038.9,508.6 1040.6,506.7 1042.2,504.8 1043.7,502.9 1045.3,500.9 1046.8,499.0 1048.3,497.0 1049.8,495.0 1051.3,493.0 1052.7,491.0 1054.1,489.0 1055.6,487.0 1057.0,484.9 1058.3,482.9 1059.7,480.8 1061.0,478.7 1062.4,476.6 1063.7,474.5 1065.0,472.4 1066.3,470.3 1067.6,468.2 1068.8,466.0 1070.1,463.9 1071.4,461.7 1072.6,459.6 1073.8,457.4 1075.1,455.2 1076.3,453.0 1077.5,450.8 1078.7,448.6 1079.9,446.4 1081.2,444.2 1082.4,442.0 1083.6,439.7 1084.8,437.5 1086.0,435.3 1087.2,433.0 1088.4,430.8 1089.6,428.5 1090.8,426.2 1092.0,424.0 1093.2,421.7 1094.4,419.4 1095.6,417.2 1096.9,414.9 1098.1,412.6 1099.4,410.3 1100.6,408.1 1101.9,405.8 1103.2,403.5 1104.4,401.3 1105.7,399.1 1107.1,396.8 1108.4,394.6 1109.7,392.4 1111.1,390.2 1112.5,388.0 1113.8,385.9 1115.3,383.7 1116.7,381.6 1118.1,379.5 1119.6,377.5 1121.1,375.4 1122.6,373.4 1124.2,371.5 1125.7,369.5 1127.3,367.6 1129.0,365.7 1130.6,363.9 1132.3,362.1 1134.0,360.3 1135.7,358.6 1137.5,356.9 1139.3,355.2 1141.1,353.6 1143.0,352.1 1144.9,350.6 1146.8,349.1 1148.8,347.7 1150.8,346.3 1152.8,345.0 1154.9,343.8 1157.0,342.6 1159.1,341.4 1161.3,340.3 1163.4,339.2 1165.6,338.2 1167.9,337.3 1170.1,336.4 1172.4,335.6 1174.6,334.8 1176.9,334.0 1179.3,333.3 1181.6,332.7 1183.9,332.1 1186.3,331.6 1188.7,331.1 1191.0,330.7 1193.4,330.3 1195.8,330.0 1198.2,329.8 1200.6,329.6 1203.0,329.4 1205.4,329.3 1207.8,329.3 1210.3,329.3 1212.7,329.4 1215.1,329.5 1217.5,329.6 1219.9,329.8 1222.3,330.1 1224.8,330.4 1227.2,330.7 1229.6,331.1 1232.1,331.5 1234.5,331.9 1236.9,332.4 1239.4,332.9 1241.8,333.4 1244.2,334.0 1246.7,334.6 1249.1,335.2 1251.6,335.8 1254.0,336.5 1256.4,337.2 1258.9,337.9 1261.3,338.6 1263.8,339.3 1266.2,340.1 1268.7,340.8 1271.1,341.6 1273.6,342.4 1276.0,343.2 1278.5,344.0 1280.9,344.8 1283.4,345.6 1285.8,346.4 1288.3,347.2 1290.7,348.0 1293.2,348.8 1295.6,349.6 1298.1,350.4 1300.6,351.1 1303.0,351.9 1305.5,352.7 1307.9,353.4 1310.4,354.2 1312.8,354.9 1315.3,355.6 1317.7,356.3 1320.2,357.0 1322.6,357.7 1325.1,358.4 1327.6,359.1 1330.0,359.8 1332.5,360.4 1334.9,361.1 1337.4,361.7 1339.8,362.4 1342.3,363.0 1344.7,363.6 1347.2,364.2 1349.6,364.8 1352.1,365.4 1354.6,366.0 1357.0,366.6 1359.5,367.2 1361.9,367.7 1364.4,368.3 1366.8,368.8 1369.3,369.4 1371.8,369.9 1374.2,370.4 1376.7,371.0 1379.1,371.5 1381.6,372.0 1384.0,372.5 1386.5,373.0 1389.0,373.5 1391.4,373.9 1393.9,374.4 1396.3,374.9 1398.8,375.3 1401.3,375.8 1403.7,376.2 1406.2,376.7 1408.6,377.1 1411.1,377.6 1413.6,378.0 1416.0,378.4 1418.5,378.8 1420.9,379.2 1423.4,379.6 1425.9,380.0 1428.3,380.4 1430.8,380.8 1433.3,381.2 1435.7,381.5 1438.2,381.9 1440.6,382.3 1443.1,382.6 1445.6,383.0 1448.0,383.3 1450.5,383.7 1453.0,384.0 1455.4,384.3 1457.9,384.7 1460.4,385.0 1462.8,385.3 1465.3,385.6 1467.8,385.9 1470.2,386.2 1472.7,386.6 1475.2,386.9 1477.7,387.1 1480.1,387.4 1482.6,387.7 1485.1,388.0 1487.5,388.3 1490.0,388.6 1492.5,388.8 1494.9,389.1 1497.4,389.4 1499.9,389.6 1502.4,389.9 1504.8,390.2 1507.3,390.4 1509.8,390.7 1512.3,390.9 1514.7,391.2 1517.2,391.4 1519.7,391.6 1522.2,391.9 1524.6,392.1 1527.1,392.3 1529.6,392.6 1532.1,392.8 1534.6,393.0 1537.0,393.2 1539.5,393.5 1542.0,393.7 1544.5,393.9 1547.0,394.1 1549.4,394.3 1551.9,394.5 1554.4,394.8 1556.9,395.0 1559.4,395.2 1561.9,395.4 1564.4,395.6 1566.8,395.8 1569.3,396.0 1571.8,396.2 1574.3,396.4 1576.8,396.6 1579.3,396.8 1581.8,397.0 1584.3,397.2 1586.7,397.4 1589.2,397.6 1591.7,397.8 1594.2,397.9 1596.7,398.1 1599.2,398.3 1601.7,398.5 1604.2,398.7 1606.7,398.9 1609.2,399.1 1611.7,399.2 1614.2,399.4 1616.7,399.6 1619.2,399.8 1621.7,400.0 1624.2,400.1 1626.6,400.3 1629.1,400.5 1631.6,400.7 1634.1,400.8 1636.6,401.0 1639.1,401.2 1641.6,401.4 1644.1,401.5 1646.6,401.7 1649.1,401.9 1651.6,402.0 1654.1,402.2 1656.6,402.4 1659.1,402.5 1661.6,402.7 1664.1,402.9 1666.6,403.0 1669.2,403.2 1671.7,403.3 1674.2,403.5 1676.7,403.7 1679.2,403.8 1681.7,404.0 1684.2,404.1 1686.7,404.3 1689.2,404.5 1691.7,404.6 1694.2,404.8 1696.7,404.9 1699.2,405.1 1701.7,405.2 1704.2,405.4 1706.7,405.5 1709.2,405.7 1711.7,405.8 1714.2,406.0 1716.7,406.2 1719.3,406.3 1721.8,406.5 1724.3,406.6 1726.8,406.8 1729.3,406.9 1731.8,407.0 1734.3,407.2 1736.8,407.3 1739.3,407.5 1741.8,407.6 1744.3,407.8 1746.8,407.9 1749.3,408.1 1751.9,408.2 1754.4,408.4 1756.9,408.5 1759.4,408.7 1761.9,408.8 1764.4,409.0 1766.9,409.1 1769.4,409.2 1771.9,409.4 1774.4,409.5 1776.9,409.7 1779.5,409.8 1782.0,410.0 1784.5,410.1 1787.0,410.2 1789.5,410.4 1792.0,410.5 1794.5,410.7 1797.0,410.8 1799.5,411.0 1802.0,411.1 1804.5,411.3 1807.1,411.4 1809.6,411.5 1812.1,411.7 1814.6,411.8 1817.1,412.0 1819.6,412.1 1822.1,412.3 1824.6,412.4 1827.1,412.5 1829.6,412.7 1832.1,412.8 1834.6,413.0 1837.2,413.1 1839.7,413.3 1842.2,413.4 1844.7,413.6 1847.2,413.7 1849.7,413.9 1852.2,414.0 1854.7,414.1 1857.2,414.3 1859.7,414.4 1862.2,414.6 1864.7,414.7 1867.2,414.9 1869.7,415.0 1872.2,415.2 1874.7,415.3 1877.3,415.5 1879.8,415.6 1882.3,415.8 1884.8,415.9 1887.3,416.1 1889.8,416.2 1892.3,416.4 1894.8,416.5 1897.3,416.7 1899.8,416.9 1902.3,417.0 1904.8,417.2 1907.3,417.3 1909.8,417.5 1912.3,417.6 1914.8,417.8 1917.3,418.0 1919.8,418.1 1922.3,418.3 1924.8,418.4 1927.3,418.6 1929.8,418.8 1932.3,418.9 1934.8,419.1 1937.3,419.3 1939.8,419.4 1942.3,419.6 1944.8,419.7 1947.3,419.9 1949.8,420.1 1952.3,420.3 1954.8,420.4 1957.2,420.6 1959.7,420.8 1962.2,420.9 1964.7,421.1 1967.2,421.3 1969.7,421.5 1972.2,421.6 1974.7,421.8 1977.2,422.0 1979.7,422.2 1982.2,422.4 1984.7,422.5 1987.1,422.7 1989.6,422.9 1992.1,423.1 1994.6,423.3 1997.1,423.5 1999.6,423.6 2002.1,423.8 2004.5,424.0 2007.0,424.2 2009.5,424.4 2012.0,424.6 2014.0,424.1 2016.0,424.0 2017.8,424.2 2019.4,424.7 2020.9,425.5 2022.3,426.6 2023.5,427.9 2024.5,429.3 2025.2,430.8 2025.8,432.4 2026.1,434.1 2026.2,435.8 2026.1,437.4 2025.7,439.0 2024.9,440.5 2023.9,441.8 2022.6,442.9 2021.0,443.8 2019.0,444.5 2016.5,444.9 2014.1,445.4 2011.6,445.8 2009.1,446.2 2006.7,446.6 2004.2,447.0 2001.7,447.4 1999.2,447.8 1996.8,448.2 1994.3,448.6 1991.8,449.0 1989.3,449.4 1986.9,449.8 1984.4,450.2 1981.9,450.6 1979.5,451.0 1977.0,451.4 1974.5,451.8 1972.0,452.1 1969.5,452.5 1967.1,452.9 1964.6,453.2 1962.1,453.6 1959.6,454.0 1957.2,454.3 1954.7,454.7 1952.2,455.0 1949.7,455.4 1947.2,455.7 1944.8,456.1 1942.3,456.4 1939.8,456.8 1937.3,457.1 1934.8,457.5 1932.4,457.8 1929.9,458.1 1927.4,458.5 1924.9,458.8 1922.4,459.1 1919.9,459.4 1917.5,459.7 1915.0,460.1 1912.5,460.4 1910.0,460.7 1907.5,461.0 1905.0,461.3 1902.6,461.6 1900.1,461.9 1897.6,462.2 1895.1,462.5 1892.6,462.8 1890.1,463.1 1887.6,463.4 1885.1,463.7 1882.7,464.0 1880.2,464.3 1877.7,464.5 1875.2,464.8 1872.7,465.1 1870.2,465.4 1867.7,465.6 1865.2,465.9 1862.7,466.2 1860.3,466.4 1857.8,466.7 1855.3,467.0 1852.8,467.2 1850.3,467.5 1847.8,467.7 1845.3,468.0 1842.8,468.2 1840.3,468.5 1837.8,468.7 1835.3,469.0 1832.8,469.2 1830.3,469.5 1827.9,469.7 1825.4,469.9 1822.9,470.2 1820.4,470.4 1817.9,470.6 1815.4,470.9 1812.9,471.1 1810.4,471.3 1807.9,471.5 1805.4,471.8 1802.9,472.0 1800.4,472.2 1797.9,472.4 1795.4,472.6 1792.9,472.8 1790.4,473.0 1787.9,473.3 1785.4,473.5 1782.9,473.7 1780.4,473.9 1777.9,474.1 1775.4,474.3 1772.9,474.5 1770.4,474.6 1767.9,474.8 1765.4,475.0 1762.9,475.2 1760.4,475.4 1757.9,475.6 1755.4,475.8 1752.9,476.0 1750.4,476.1 1747.9,476.3 1745.4,476.5 1742.9,476.7 1740.4,476.8 1737.9,477.0 1735.4,477.2 1732.9,477.3 1730.4,477.5 1727.9,477.7 1725.4,477.8 1722.9,478.0 1720.4,478.2 1717.9,478.3 1715.4,478.5 1712.9,478.6 1710.4,478.8 1707.9,478.9 1705.4,479.1 1702.9,479.2 1700.4,479.4 1697.9,479.5 1695.4,479.7 1692.9,479.8 1690.4,480.0 1687.9,480.1 1685.4,480.2 1682.9,480.4 1680.4,480.5 1677.9,480.6 1675.3,480.8 1672.8,480.9 1670.3,481.0 1667.8,481.2 1665.3,481.3 1662.8,481.4 1660.3,481.6 1657.8,481.7 1655.3,481.8 1652.8,481.9 1650.3,482.0 1647.8,482.2 1645.3,482.3 1642.8,482.4 1640.3,482.5 1637.8,482.6 1635.3,482.7 1632.8,482.8 1630.3,483.0 1627.7,483.1 1625.2,483.2 1622.7,483.3 1620.2,483.4 1617.7,483.5 1615.2,483.6 1612.7,483.7 1610.2,483.8 1607.7,483.9 1605.2,484.0 1602.7,484.1 1600.2,484.2 1597.7,484.3 1595.2,484.4 1592.7,484.5 1590.1,484.6 1587.6,484.6 1585.1,484.7 1582.6,484.8 1580.1,484.9 1577.6,485.0 1575.1,485.1 1572.6,485.2 1570.1,485.3 1567.6,485.4 1565.1,485.4 1562.6,485.5 1560.1,485.6 1557.6,485.7 1555.1,485.8 1552.5,485.8 1550.0,485.9 1547.5,486.0 1545.0,486.1 1542.5,486.2 1540.0,486.2 1537.5,486.3 1535.0,486.4 1532.5,486.5 1530.0,486.6 1527.5,486.6 1525.0,486.7 1522.5,486.8 1520.0,486.9 1517.5,486.9 1515.0,487.0 1512.4,487.1 1509.9,487.2 1507.4,487.3 1504.9,487.3 1502.4,487.4 1499.9,487.5 1497.4,487.6 1494.9,487.6 1492.4,487.7 1489.9,487.8 1487.4,487.9 1484.9,487.9 1482.4,488.0 1479.9,488.1 1477.4,488.2 1474.9,488.3 1472.4,488.3 1469.8,488.4 1467.3,488.5 1464.8,488.6 1462.3,488.7 1459.8,488.7 1457.3,488.8 1454.8,488.9 1452.3,489.0 1449.8,489.1 1447.3,489.2 1444.8,489.2 1442.3,489.3 1439.8,489.4 1437.3,489.5 1434.8,489.6 1432.3,489.7 1429.8,489.8 1427.3,489.9 1424.8,490.0 1422.3,490.0 1419.8,490.1 1417.3,490.2 1414.8,490.3 1412.2,490.4 1409.7,490.5 1407.2,490.6 1404.7,490.7 1402.2,490.8 1399.7,490.9 1397.2,491.0 1394.7,491.1 1392.2,491.2 1389.7,491.4 1387.2,491.5 1384.7,491.6 1382.2,491.7 1379.7,491.8 1377.2,491.9 1374.7,492.0 1372.2,492.2 1369.7,492.3 1367.2,492.4 1364.7,492.5 1362.2,492.6 1359.7,492.8 1357.2,492.9 1354.7,493.0 1352.2,493.2 1349.7,493.3 1347.2,493.4 1344.7,493.6 1342.2,493.7 1339.7,493.8 1337.2,494.0 1334.7,494.1 1332.2,494.3 1329.7,494.4 1327.2,494.6 1324.7,494.7 1322.2,494.9 1319.7,495.0 1317.2,495.2 1314.7,495.4 1312.3,495.5 1309.8,495.7 1307.3,495.9 1304.8,496.0 1302.3,496.2 1299.8,496.4 1297.3,496.6 1294.8,496.7 1292.3,496.9 1289.8,497.1 1287.3,497.3 1284.8,497.5 1282.3,497.7 1279.8,497.9 1277.3,498.1 1274.8,498.3 1272.3,498.5 1269.8,498.7 1267.4,498.9 1264.9,499.1 1262.4,499.3 1259.9,499.5 1257.4,499.8 1254.9,500.0 1252.4,500.2 1249.9,500.4 1247.4,500.7 1244.9,500.9 1242.5,501.2 1240.0,501.5 1237.5,501.7 1235.0,502.0 1232.5,502.3 1230.0,502.7 1227.6,503.0 1225.1,503.3 1222.6,503.7 1220.1,504.1 1217.7,504.5 1215.2,504.9 1212.8,505.4 1210.3,505.8 1207.8,506.3 1205.4,506.8 1202.9,507.4 1200.5,507.9 1198.1,508.5 1195.6,509.1 1193.2,509.8 1190.8,510.5 1188.3,511.2 1185.9,511.9 1183.5,512.7 1181.1,513.5 1178.7,514.3 1176.3,515.2 1173.9,516.1 1171.5,517.1 1169.2,518.1 1166.8,519.1 1164.6,520.2 1162.3,521.3 1160.1,522.5 1157.9,523.8 1155.7,525.1 1153.6,526.4 1151.6,527.8 1149.6,529.3 1147.7,530.8 1145.8,532.4 1144.0,534.1 1142.3,535.8 1140.6,537.6 1139.0,539.5 1137.5,541.3 1136.0,543.3 1134.5,545.3 1133.1,547.3 1131.8,549.4 1130.5,551.5 1129.2,553.6 1127.9,555.7 1126.7,557.9 1125.5,560.1 1124.3,562.3 1123.1,564.5 1122.0,566.7 1120.8,569.0 1119.7,571.2 1118.6,573.5 1117.6,575.7 1116.5,578.0 1115.5,580.3 1114.5,582.6 1113.5,584.9 1112.5,587.3 1111.5,589.6 1110.6,592.0 1109.6,594.3 1108.7,596.7 1107.8,599.0 1106.9,601.4 1106.0,603.8 1105.1,606.2 1104.3,608.6 1103.5,611.0 1102.6,613.4 1101.8,615.8 1101.0,618.2 1100.2,620.6 1099.4,623.0 1098.7,625.4 1097.9,627.8 1097.1,630.3 1096.4,632.7 1095.7,635.1 1094.9,637.5 1094.2,639.9 1093.5,642.4 1092.8,644.8 1092.1,647.2 1091.4,649.6 1090.8,652.0 1090.1,654.4 1089.4,656.9 1088.8,659.3 1088.1,661.7 1087.5,664.1 1086.8,666.5 1086.2,668.9 1085.5,671.3 1084.9,673.7 1084.3,676.1 1083.7,678.5 1083.1,680.8 1082.4,683.2 1081.8,685.6 1081.2,688.0 1080.6,690.4 1080.0,692.8 1079.4,695.2 1078.8,697.6 1078.3,699.9 1077.7,702.3 1077.1,704.7 1076.5,707.1 1075.9,709.5 1075.3,711.9 1074.8,714.3 1074.2,716.6 1073.6,719.0 1073.0,721.4 1072.5,723.8 1071.9,726.2 1071.3,728.6 1070.8,731.0 1070.2,733.4 1069.6,735.8 1069.1,738.2 1068.5,740.6 1067.9,743.0 1067.3,745.4 1066.8,747.8 1066.2,750.2 1065.6,752.6 1065.0,755.0 1064.5,757.4 1063.9,759.8 1063.3,762.2 1062.7,764.6 1062.1,767.1 1061.5,769.5 1060.9,771.9 1060.3,774.4 1059.7,776.8 1059.1,779.2 1058.5,781.7 1057.9,784.1 1057.3,786.6 1056.7,789.0 1056.1,791.5 1055.4,793.9 1054.8,796.4 1054.2,798.9 1053.5,801.4 1052.9,803.8 1052.2,806.3 1051.6,808.8 1050.9,811.3 1050.2,813.8 1049.5,816.3 1048.9,818.8 1048.2,821.3 1047.5,823.8 1046.8,826.4 1046.1,828.9 1045.3,831.4 1044.6,834.0 1043.8,836.5 1043.1,839.0 1042.3,841.5 1041.5,844.0 1040.7,846.5 1039.8,849.0 1038.9,851.4 1038.0,853.8 1037.1,856.2 1036.1,858.6 1035.1,860.9 1034.1,863.2 1033.0,865.5 1031.9,867.7 1030.7,869.9 1029.5,872.1 1028.2,874.2 1026.9,876.2 1025.5,878.2 1024.1,880.1 1022.7,882.0 1021.1,883.8 1019.5,885.6 1017.9,887.3 1016.2,888.9 1014.4,890.5 1012.6,892.0 1010.6,893.4 1008.6,894.7 1006.6,895.9 1004.5,897.1 1002.3,898.1 1000.0,898.9 997.7,899.6 995.4,900.0 993.1,900.2 990.7,900.1 988.3,899.8 986.0,899.3 983.6,898.7 981.3,897.9 979.0,896.9 976.8,895.8 974.7,894.7 972.6,893.4 970.6,892.0 968.6,890.6 966.7,889.1 964.8,887.4 962.9,885.8 961.1,884.0 959.3,882.2 957.6,880.4 955.8,878.5 954.1,876.5 952.4,874.5 950.8,872.5 949.1,870.5 947.4,868.5 945.8,866.4 944.2,864.4 942.5,862.3 940.9,860.3 939.2,858.3 937.6,856.2 935.9,854.2 934.2,852.3 932.5,850.3 930.8,848.4 929.1,846.4 927.4,844.5 925.7,842.6 924.0,840.7 922.2,838.9 920.5,837.0 918.7,835.2 917.0,833.4 915.2,831.6 913.4,829.8 911.6,828.1 909.8,826.4 908.0,824.6 906.2,822.9 904.3,821.2 902.5,819.6 900.6,817.9 898.8,816.3 896.9,814.7 895.0,813.1 893.1,811.5 891.2,809.9 889.2,808.4 887.3,806.9 885.4,805.4 883.4,803.9 881.4,802.4 879.5,801.0 877.5,799.6 875.5,798.1 873.4,796.8 871.4,795.4 869.4,794.0 867.3,792.7 865.2,791.4 863.1,790.1 861.1,788.8 858.9,787.6 856.8,786.3 854.7,785.1 852.5,783.9 850.4,782.7 848.2,781.6 846.0,780.4 843.8,779.3 841.6,778.2 839.4,777.1 837.1,776.1 834.9,775.0 832.6,774.0 830.3,773.0 828.0,772.0 825.7,771.1 823.3,770.2 821.0,769.2 818.6,768.4 816.3,767.5 813.9,766.6 811.5,765.8 809.1,765.0 806.7,764.2 804.2,763.5 801.8,762.7 799.4,762.0 796.9,761.3 794.4,760.7 792.0,760.0 789.5,759.4 787.0,758.9 784.5,758.3 782.0,757.8 779.5,757.2 777.0,756.8 774.5,756.3 772.0,755.9 769.4,755.5 766.9,755.1 764.4,754.8 761.9,754.4 759.3,754.1 756.8,753.9 754.3,753.7 751.7,753.4 749.2,753.3 746.6,753.1 744.1,753.0 741.6,752.9 739.0,752.9 736.5,752.8 734.0,752.9 731.4,752.9 728.9,753.0 726.4,753.1 723.9,753.2 721.4,753.4 718.9,753.6 716.4,753.8 713.9,754.1 711.4,754.4 708.9,754.7 706.4,755.0 704.0,755.4 701.5,755.9 699.1,756.4 696.6,756.9 694.2,757.4 691.8,758.0 689.4,758.6 687.0,759.2 684.6,759.9 682.2,760.6 679.8,761.3 677.5,762.1 675.1,762.9 672.8,763.7 670.4,764.6 668.1,765.5 665.8,766.4 663.5,767.3 661.2,768.3 658.9,769.3 656.6,770.3 654.4,771.4 652.1,772.5 649.9,773.6 647.7,774.7 645.4,775.8 643.2,777.0 641.0,778.2 638.8,779.5 636.7,780.7 634.5,782.0 632.4,783.3 630.2,784.6 628.1,785.9 626.0,787.3 623.9,788.7 621.8,790.1 619.7,791.5 617.6,792.9 615.6,794.4 613.5,795.9 611.5,797.4 609.5,798.9 607.5,800.4 605.5,801.9 603.5,803.5 601.5,805.1 599.6,806.6 597.6,808.2 595.7,809.9 593.8,811.5 591.9,813.1 590.0,814.8 588.1,816.4 586.2,818.1 584.4,819.8 582.5,821.5 580.7,823.2 578.9,824.9 577.1,826.7 575.3,828.4 573.5,830.2 571.8,831.9 570.0,833.7 568.3,835.5 566.6,837.3 564.8,839.1 563.1,840.9 561.5,842.7 559.8,844.6 558.1,846.4 556.5,848.3 554.8,850.1 553.2,852.0 551.6,853.9 550.0,855.8 548.4,857.7 546.8,859.6 545.2,861.5 543.7,863.5 542.1,865.4 540.6,867.4 539.0,869.3 537.5,871.3 536.0,873.2 534.5,875.2 533.0,877.2 531.5,879.2 530.1,881.2 528.6,883.2 527.2,885.3 525.7,887.3 524.3,889.3 522.9,891.4 521.5,893.4 520.1,895.5 518.7,897.6 517.3,899.6 516.0,901.7 514.6,903.8 513.2,905.9 511.9,908.0 510.6,910.1 509.2,912.2 507.9,914.3 506.6,916.5 505.3,918.6 504.0,920.7 502.7,922.9 501.5,925.0 500.2,927.2 498.9,929.4 497.7,931.5 496.5,933.7 495.2,935.9 494.0,938.1 492.8,940.3 491.6,942.5 490.4,944.7 489.2,946.9 488.0,949.1 486.8,951.3 485.6,953.5 484.4,955.7 483.3,958.0 482.1,960.2 481.0,962.5 479.8,964.7 478.7,966.9 477.6,969.2 476.4,971.5 475.3,973.7 474.2,976.0 473.1,978.2 472.0,980.5 470.9,982.8 469.8,985.1 468.8,987.3 467.7,989.6 466.6,991.9 465.5,994.2 464.5,996.5 463.4,998.8 462.4,1001.1 461.3,1003.4 460.3,1005.7 459.2,1008.0 458.2,1010.3 457.2,1012.6 456.2,1014.9 455.1,1017.2 454.1,1019.5 453.1,1021.9 452.1,1024.2 451.1,1026.5 450.1,1028.8 449.1,1031.1 448.1,1033.5 447.2,1035.8 446.2,1038.1 445.2,1040.4 444.2,1042.8 443.2,1045.1 442.3,1047.4 441.3,1049.8 440.3,1052.1 439.4,1054.4 438.4,1056.7 437.5,1059.1 436.5,1061.4 435.6,1063.7 434.6,1066.1 433.7,1068.4 432.7,1070.7 431.8,1073.1 430.8,1075.4 429.9,1077.7 429.0,1080.0 428.0,1082.4 427.1,1084.7 426.2,1087.0 425.3,1089.3 424.3,1091.7 423.4,1094.0 422.5,1096.3 421.5,1098.6 420.6,1100.9 419.7,1103.3 418.8,1105.6 417.9,1107.9 416.9,1110.2 416.0,1112.5 415.1,1114.8 414.2,1117.1 413.3,1119.4 412.3,1121.7 411.4,1124.0 410.5,1126.3 409.6,1128.6 408.7,1130.9 407.8,1133.2 406.8,1135.4 405.9,1137.7 405.0,1140.0"/>
<path stroke="#008000" d="M405.0,1365.0L405.3,1362.5 405.6,1360.0 406.0,1357.6 406.3,1355.1 406.6,1352.6 407.0,1350.1 407.3,1347.7 407.7,1345.2 408.0,1342.7 408.4,1340.3 408.7,1337.8 409.1,1335.3 409.4,1332.8 409.8,1330.4 410.2,1327.9 410.6,1325.4 410.9,1322.9 411.3,1320.5 411.7,1318.0 412.1,1315.5 412.5,1313.1 412.9,1310.6 413.3,1308.1 413.7,1305.6 414.1,1303.2 414.5,1300.7 414.9,1298.2 415.3,1295.8 415.7,1293.3 416.1,1290.8 416.6,1288.4 417.0,1285.9 417.4,1283.4 417.9,1281.0 418.3,1278.5 418.7,1276.0 419.2,1273.6 419.6,1271.1 420.1,1268.7 420.5,1266.2 421.0,1263.7 421.4,1261.3 421.9,1258.8 422.4,1256.4 422.9,1253.9 423.3,1251.4 423.8,1249.0 424.3,1246.5 424.8,1244.1 425.3,1241.6 425.8,1239.1 426.3,1236.7 426.7,1234.2 427.3,1231.8 427.8,1229.3 428.3,1226.9 428.8,1224.4 429.3,1222.0 429.8,1219.5 430.3,1217.1 430.9,1214.6 431.4,1212.2 431.9,1209.7 432.5,1207.3 433.0,1204.8 433.5,1202.4 434.1,1199.9 434.6,1197.5 435.2,1195.0 435.7,1192.6 436.3,1190.2 436.9,1187.7 437.4,1185.3 438.0,1182.8 438.6,1180.4 439.2,1178.0 439.7,1175.5 440.3,1173.1 440.9,1170.7 441.5,1168.2 442.1,1165.8 442.7,1163.3 443.3,1160.9 443.9,1158.5 444.5,1156.1 445.1,1153.6 445.7,1151.2 446.3,1148.8 447.0,1146.3 447.6,1143.9 448.2,1141.5 448.8,1139.1 449.5,1136.6 450.1,1134.2 450.8,1131.8 451.4,1129.4 452.0,1127.0 452.7,1124.5 453.3,1122.1 454.0,1119.7 454.7,1117.3 455.3,1114.9 456.0,1112.5 456.7,1110.0 457.3,1107.6 458.0,1105.2 458.7,1102.8 459.4,1100.4 460.1,1098.0 460.8,1095.6 461.5,1093.2 462.2,1090.8 462.9,1088.4 463.6,1086.0 464.3,1083.6 465.0,1081.2 465.7,1078.8 466.4,1076.4 467.1,1074.0 467.9,1071.6 468.6,1069.2 469.3,1066.8 470.1,1064.4 470.8,1062.0 471.6,1059.7 472.3,1057.3 473.1,1054.9 473.8,1052.5 474.6,1050.1 475.4,1047.7 476.1,1045.4 476.9,1043.0 477.7,1040.6 478.5,1038.2 479.3,1035.9 480.1,1033.5 480.9,1031.1 481.7,1028.8 482.5,1026.4 483.3,1024.0 484.2,1021.7 485.0,1019.3 485.8,1017.0 486.7,1014.6 487.5,1012.3 488.4,1009.9 489.2,1007.6 490.1,1005.2 491.0,1002.9 491.9,1000.5 492.7,998.2 493.6,995.9 494.5,993.5 495.4,991.2 496.3,988.9 497.2,986.5 498.2,984.2 499.1,981.9 500.0,979.6 501.0,977.3 501.9,974.9 502.9,972.6 503.8,970.3 504.8,968.0 505.8,965.7 506.8,963.4 507.8,961.1 508.7,958.8 509.8,956.5 510.8,954.2 511.8,951.9 512.8,949.6 513.8,947.3 514.9,945.1 515.9,942.8 517.0,940.5 518.0,938.2 519.1,936.0 520.2,933.7 521.2,931.4 522.3,929.2 523.4,926.9 524.5,924.6 525.6,922.4 526.7,920.1 527.8,917.9 528.9,915.6 530.1,913.4 531.2,911.1 532.3,908.9 533.5,906.7 534.6,904.4 535.7,902.2 536.9,900.0 538.0,897.8 539.2,895.5 540.4,893.3 541.5,891.1 542.7,888.9 543.9,886.7 545.0,884.5 546.2,882.3 547.4,880.1 548.6,877.9 549.8,875.7 550.9,873.5 552.1,871.3 553.3,869.1 554.5,867.0 555.7,864.8 556.9,862.6 558.1,860.4 559.4,858.3 560.6,856.1 561.8,853.9 563.0,851.8 564.2,849.6 565.5,847.5 566.7,845.3 567.9,843.2 569.2,841.0 570.4,838.9 571.7,836.8 573.0,834.6 574.3,832.5 575.6,830.4 576.9,828.3 578.2,826.1 579.5,824.0 580.8,821.9 582.2,819.8 583.5,817.7 584.9,815.6 586.3,813.5 587.7,811.4 589.1,809.4 590.5,807.3 591.9,805.2 593.3,803.2 594.8,801.1 596.2,799.0 597.7,797.0 599.2,795.0 600.6,792.9 602.1,790.9 603.6,788.9 605.2,786.9 606.7,784.9 608.2,782.9 609.8,780.9 611.3,778.9 612.9,776.9 614.5,775.0 616.0,773.0 617.6,771.0 619.3,769.1 620.9,767.2 622.5,765.2 624.1,763.3 625.8,761.4 627.4,759.5 629.1,757.6 630.8,755.8 632.5,753.9 634.2,752.0 635.9,750.2 637.6,748.4 639.3,746.5 641.1,744.7 642.8,742.9 644.6,741.1 646.4,739.3 648.2,737.6 650.0,735.8 651.8,734.1 653.6,732.3 655.4,730.6 657.2,728.9 659.1,727.2 660.9,725.5 662.8,723.8 664.7,722.2 666.6,720.5 668.5,718.9 670.4,717.3 672.3,715.7 674.2,714.1 676.2,712.5 678.1,710.9 680.1,709.4 682.1,707.9 684.0,706.3 686.0,704.8 688.0,703.3 690.0,701.9 692.1,700.4 694.1,699.0 696.2,697.5 698.2,696.1 700.3,694.7 702.3,693.3 704.4,692.0 706.5,690.6 708.6,689.3 710.7,688.0 712.9,686.7 715.0,685.4 717.1,684.1 719.3,682.8 721.5,681.6 723.6,680.4 725.8,679.1 728.0,677.9 730.2,676.7 732.4,675.6 734.6,674.4 736.8,673.2 739.0,672.1 741.3,671.0 743.5,669.9 745.8,668.8 748.0,667.7 750.3,666.6 752.5,665.5 754.8,664.5 757.1,663.4 759.4,662.4 761.6,661.3 763.9,660.3 766.2,659.3 768.5,658.3 770.8,657.3 773.2,656.4 775.5,655.4 777.8,654.4 780.1,653.5 782.5,652.5 784.8,651.6 787.1,650.7 789.5,649.8 791.8,648.9 794.2,648.0 796.5,647.1 798.9,646.2 801.2,645.3 803.6,644.4 805.9,643.6 808.3,642.7 810.6,641.8 813.0,641.0 815.4,640.2 817.7,639.3 820.1,638.5 822.5,637.6 824.9,636.8 827.2,636.0 829.6,635.2 832.0,634.3 834.3,633.5 836.7,632.7 839.1,631.9 841.5,631.1 843.9,630.3 846.2,629.5 848.6,628.7 851.0,627.9 853.4,627.0 855.7,626.2 858.1,625.4 860.5,624.6 862.8,623.8 865.2,623.0 867.6,622.2 870.0,621.4 872.3,620.5 874.7,619.7 877.0,618.9 879.4,618.1 881.8,617.2 884.1,616.4 886.5,615.5 888.8,614.7 891.2,613.8 893.5,613.0 895.9,612.1 898.2,611.2 900.5,610.3 902.9,609.5 905.2,608.6 907.5,607.7 909.9,606.8 912.2,605.8 914.5,604.9 916.8,604.0 919.1,603.0 921.4,602.1 923.7,601.1 926.0,600.1 928.3,599.2 930.6,598.2 932.9,597.2 935.2,596.1 937.4,595.1 939.7,594.1 942.0,593.0 944.2,591.9 946.5,590.9 948.7,589.8 950.9,588.7 953.2,587.5 955.4,586.4 957.6,585.3 959.8,584.1 962.0,582.9 964.2,581.7 966.4,580.5 968.6,579.3 970.8,578.0 972.9,576.8 975.1,575.5 977.3,574.2 979.4,572.9 981.5,571.5 983.6,570.2 985.7,568.8 987.8,567.4 989.9,566.0 991.9,564.6 994.0,563.1 996.0,561.6 998.0,560.1 1000.0,558.6 1001.9,557.0 1003.9,555.5 1005.8,553.9 1007.7,552.2 1009.6,550.6 1011.4,548.9 1013.2,547.2 1015.0,545.5 1016.7,543.7 1018.5,541.9 1020.2,540.1 1021.8,538.2 1023.5,536.4 1025.1,534.5 1026.6,532.5 1028.2,530.6 1029.7,528.6 1031.2,526.6 1032.7,524.6 1034.1,522.5 1035.5,520.5 1036.9,518.4 1038.3,516.3 1039.7,514.2 1041.0,512.0 1042.3,509.9 1043.6,507.7 1044.9,505.5 1046.2,503.3 1047.4,501.1 1048.6,498.9 1049.9,496.7 1051.1,494.5 1052.3,492.2 1053.4,490.0 1054.6,487.8 1055.8,485.5 1056.9,483.3 1058.1,481.0 1059.2,478.8 1060.4,476.5 1061.5,474.3 1062.6,472.0 1063.7,469.8 1064.8,467.5 1066.0,465.3 1067.1,463.1 1068.2,460.8 1069.3,458.6 1070.4,456.4 1071.5,454.2 1072.6,452.0 1073.7,449.8 1074.8,447.6 1075.9,445.4 1077.0,443.1 1078.1,440.9 1079.2,438.7 1080.4,436.5 1081.5,434.4 1082.6,432.2 1083.6,430.0 1084.7,427.8 1085.8,425.6 1086.9,423.3 1088.0,421.1 1089.1,418.9 1090.2,416.7 1091.3,414.5 1092.4,412.3 1093.5,410.1 1094.6,407.9 1095.7,405.6 1096.8,403.4 1097.9,401.2 1099.0,398.9 1100.1,396.7 1101.2,394.4 1102.3,392.2 1103.4,389.9 1104.5,387.6 1105.6,385.3 1106.8,383.0 1107.9,380.8 1109.0,378.5 1110.1,376.2 1111.3,373.9 1112.4,371.6 1113.6,369.3 1114.8,367.1 1115.9,364.8 1117.2,362.5 1118.4,360.3 1119.6,358.0 1120.9,355.8 1122.2,353.6 1123.5,351.4 1124.8,349.2 1126.2,347.0 1127.6,344.9 1129.0,342.8 1130.5,340.7 1131.9,338.6 1133.5,336.5 1135.0,334.5 1136.6,332.5 1138.2,330.5 1139.9,328.5 1141.6,326.6 1143.3,324.7 1145.1,322.9 1146.9,321.0 1148.8,319.3 1150.7,317.5 1152.7,315.8 1154.7,314.2 1156.7,312.6 1158.8,311.0 1160.9,309.5 1163.0,308.1 1165.2,306.8 1167.4,305.5 1169.6,304.3 1171.8,303.3 1174.0,302.3 1176.3,301.4 1178.5,300.6 1180.8,299.9 1183.1,299.3 1185.4,298.8 1187.7,298.4 1190.0,298.1 1192.3,297.9 1194.6,297.7 1196.9,297.7 1199.2,297.7 1201.5,297.7 1203.9,297.9 1206.2,298.1 1208.6,298.4 1210.9,298.7 1213.3,299.1 1215.7,299.6 1218.0,300.1 1220.4,300.6 1222.8,301.2 1225.2,301.9 1227.6,302.5 1230.0,303.3 1232.3,304.0 1234.7,304.8 1237.1,305.6 1239.5,306.4 1242.0,307.2 1244.4,308.1 1246.8,309.0 1249.2,309.8 1251.6,310.7 1254.0,311.6 1256.4,312.5 1258.8,313.4 1261.2,314.3 1263.7,315.2 1266.1,316.1 1268.5,316.9 1270.9,317.8 1273.3,318.6 1275.7,319.5 1278.1,320.3 1280.6,321.2 1283.0,322.0 1285.4,322.8 1287.8,323.7 1290.2,324.5 1292.6,325.3 1295.0,326.1 1297.5,326.9 1299.9,327.6 1302.3,328.4 1304.7,329.2 1307.1,330.0 1309.5,330.7 1312.0,331.5 1314.4,332.2 1316.8,333.0 1319.2,333.7 1321.6,334.5 1324.1,335.2 1326.5,335.9 1328.9,336.6 1331.3,337.3 1333.7,338.0 1336.2,338.7 1338.6,339.4 1341.0,340.1 1343.4,340.8 1345.8,341.5 1348.3,342.1 1350.7,342.8 1353.1,343.5 1355.5,344.1 1358.0,344.8 1360.4,345.4 1362.8,346.0 1365.2,346.7 1367.7,347.3 1370.1,347.9 1372.5,348.5 1374.9,349.1 1377.4,349.7 1379.8,350.3 1382.2,350.9 1384.7,351.5 1387.1,352.1 1389.5,352.7 1391.9,353.2 1394.4,353.8 1396.8,354.4 1399.2,354.9 1401.7,355.5 1404.1,356.0 1406.5,356.5 1409.0,357.1 1411.4,357.6 1413.8,358.1 1416.3,358.7 1418.7,359.2 1421.2,359.7 1423.6,360.2 1426.0,360.7 1428.5,361.2 1430.9,361.7 1433.3,362.2 1435.8,362.6 1438.2,363.1 1440.7,363.6 1443.1,364.1 1445.6,364.5 1448.0,365.0 1450.4,365.4 1452.9,365.9 1455.3,366.3 1457.8,366.7 1460.2,367.2 1462.7,367.6 1465.1,368.0 1467.6,368.5 1470.0,368.9 1472.5,369.3 1474.9,369.7 1477.4,370.1 1479.8,370.5 1482.3,370.9 1484.8,371.3 1487.2,371.7 1489.7,372.0 1492.1,372.4 1494.6,372.8 1497.0,373.2 1499.5,373.5 1502.0,373.9 1504.4,374.2 1506.9,374.6 1509.3,374.9 1511.8,375.3 1514.3,375.6 1516.7,375.9 1519.2,376.3 1521.7,376.6 1524.1,376.9 1526.6,377.2 1529.1,377.6 1531.6,377.9 1534.0,378.2 1536.5,378.5 1539.0,378.8 1541.5,379.1 1543.9,379.4 1546.4,379.7 1548.9,379.9 1551.4,380.2 1553.8,380.5 1556.3,380.8 1558.8,381.0 1561.3,381.3 1563.8,381.6 1566.3,381.8 1568.7,382.1 1571.2,382.3 1573.7,382.6 1576.2,382.8 1578.7,383.1 1581.2,383.3 1583.7,383.6 1586.2,383.8 1588.7,384.0 1591.2,384.2 1593.7,384.5 1596.1,384.7 1598.6,384.9 1601.1,385.1 1603.6,385.3 1606.1,385.5 1608.6,385.7 1611.1,386.0 1613.6,386.2 1616.1,386.4 1618.6,386.5 1621.1,386.7 1623.6,386.9 1626.1,387.1 1628.7,387.3 1631.2,387.5 1633.7,387.7 1636.2,387.9 1638.7,388.0 1641.2,388.2 1643.7,388.4 1646.2,388.6 1648.7,388.7 1651.2,388.9 1653.7,389.1 1656.2,389.2 1658.7,389.4 1661.3,389.6 1663.8,389.7 1666.3,389.9 1668.8,390.0 1671.3,390.2 1673.8,390.3 1676.3,390.5 1678.8,390.6 1681.4,390.8 1683.9,390.9 1686.4,391.1 1688.9,391.2 1691.4,391.4 1693.9,391.5 1696.4,391.7 1699.0,391.8 1701.5,392.0 1704.0,392.1 1706.5,392.2 1709.0,392.4 1711.5,392.5 1714.1,392.7 1716.6,392.8 1719.1,392.9 1721.6,393.1 1724.1,393.2 1726.6,393.3 1729.1,393.5 1731.7,393.6 1734.2,393.7 1736.7,393.9 1739.2,394.0 1741.7,394.1 1744.2,394.3 1746.8,394.4 1749.3,394.5 1751.8,394.7 1754.3,394.8 1756.8,395.0 1759.3,395.1 1761.8,395.2 1764.4,395.4 1766.9,395.5 1769.4,395.6 1771.9,395.8 1774.4,395.9 1776.9,396.0 1779.4,396.2 1781.9,396.3 1784.5,396.5 1787.0,396.6 1789.5,396.7 1792.0,396.9 1794.5,397.0 1797.0,397.2 1799.5,397.3 1802.0,397.5 1804.5,397.6 1807.0,397.8 1809.5,397.9 1812.1,398.1 1814.6,398.2 1817.1,398.4 1819.6,398.5 1822.1,398.7 1824.6,398.9 1827.1,399.0 1829.6,399.2 1832.1,399.3 1834.6,399.5 1837.1,399.7 1839.6,399.8 1842.1,400.0 1844.6,400.2 1847.1,400.4 1849.6,400.5 1852.1,400.7 1854.6,400.9 1857.1,401.1 1859.5,401.3 1862.0,401.5 1864.5,401.7 1867.0,401.8 1869.5,402.0 1872.0,402.2 1874.5,402.4 1877.0,402.6 1879.5,402.8 1881.9,403.1 1884.4,403.3 1886.9,403.5 1889.4,403.7 1891.9,403.9 1894.4,404.1 1896.8,404.4 1899.3,404.6 1901.8,404.8 1904.3,405.1 1906.7,405.3 1909.2,405.5 1911.7,405.8 1914.2,406.0 1916.6,406.2 1919.1,406.5 1921.6,406.7 1924.0,407.0 1926.5,407.2 1929.0,407.5 1931.5,407.7 1933.9,407.9 1936.4,408.2 1938.9,408.4 1941.4,408.6 1943.8,408.8 1946.3,409.0 1948.8,409.2 1951.3,409.5 1953.7,409.6 1956.2,409.8 1958.7,410.0 1961.2,410.2 1963.7,410.4 1966.2,410.5 1968.7,410.7 1971.1,410.8 1973.6,411.0 1976.1,411.1 1978.6,411.2 1981.1,411.3 1983.6,411.4 1986.1,411.5 1988.7,411.6 1991.2,411.6 1993.7,411.7 1996.2,411.7 1998.7,411.7 2001.3,411.7 2003.8,411.7 2006.3,411.7 2008.9,411.6 2011.4,411.6 2013.9,411.5 2016.5,411.4 2024.5,412.0 2024.5,424.0 2020.0,430.0 2017.7,431.0 2015.4,432.0 2013.1,433.0 2010.8,433.8 2008.4,434.7 2006.1,435.5 2003.7,436.3 2001.4,437.0 1999.0,437.7 1996.6,438.4 1994.2,439.0 1991.8,439.6 1989.4,440.2 1987.0,440.7 1984.5,441.2 1982.1,441.7 1979.7,442.2 1977.2,442.6 1974.8,443.1 1972.3,443.5 1969.8,443.8 1967.4,444.2 1964.9,444.5 1962.4,444.9 1959.9,445.2 1957.5,445.5 1955.0,445.8 1952.5,446.1 1950.0,446.4 1947.5,446.6 1945.0,446.9 1942.5,447.2 1940.0,447.4 1937.6,447.7 1935.1,448.0 1932.6,448.2 1930.1,448.5 1927.6,448.7 1925.1,449.0 1922.6,449.3 1920.1,449.5 1917.6,449.8 1915.1,450.0 1912.6,450.3 1910.1,450.6 1907.7,450.8 1905.2,451.1 1902.7,451.3 1900.2,451.6 1897.7,451.9 1895.2,452.1 1892.7,452.4 1890.2,452.6 1887.7,452.9 1885.2,453.1 1882.7,453.4 1880.2,453.6 1877.8,453.9 1875.3,454.1 1872.8,454.4 1870.3,454.6 1867.8,454.9 1865.3,455.1 1862.8,455.4 1860.3,455.6 1857.8,455.9 1855.3,456.1 1852.8,456.4 1850.3,456.6 1847.9,456.9 1845.4,457.1 1842.9,457.4 1840.4,457.6 1837.9,457.8 1835.4,458.1 1832.9,458.3 1830.4,458.6 1827.9,458.8 1825.4,459.0 1822.9,459.3 1820.4,459.5 1817.9,459.8 1815.5,460.0 1813.0,460.2 1810.5,460.5 1808.0,460.7 1805.5,460.9 1803.0,461.1 1800.5,461.4 1798.0,461.6 1795.5,461.8 1793.0,462.1 1790.5,462.3 1788.0,462.5 1785.5,462.7 1783.0,463.0 1780.6,463.2 1778.1,463.4 1775.6,463.6 1773.1,463.8 1770.6,464.1 1768.1,464.3 1765.6,464.5 1763.1,464.7 1760.6,464.9 1758.1,465.1 1755.6,465.3 1753.1,465.6 1750.6,465.8 1748.1,466.0 1745.6,466.2 1743.1,466.4 1740.7,466.6 1738.2,466.8 1735.7,467.0 1733.2,467.2 1730.7,467.4 1728.2,467.6 1725.7,467.8 1723.2,468.0 1720.7,468.2 1718.2,468.4 1715.7,468.6 1713.2,468.8 1710.7,468.9 1708.2,469.1 1705.7,469.3 1703.2,469.5 1700.7,469.7 1698.2,469.9 1695.7,470.0 1693.3,470.2 1690.8,470.4 1688.3,470.6 1685.8,470.8 1683.3,470.9 1680.8,471.1 1678.3,471.3 1675.8,471.4 1673.3,471.6 1670.8,471.8 1668.3,471.9 1665.8,472.1 1663.3,472.3 1660.8,472.4 1658.3,472.6 1655.8,472.8 1653.3,472.9 1650.8,473.1 1648.3,473.2 1645.8,473.4 1643.3,473.5 1640.8,473.7 1638.3,473.8 1635.8,474.0 1633.3,474.1 1630.8,474.2 1628.3,474.4 1625.9,474.5 1623.4,474.7 1620.9,474.8 1618.4,474.9 1615.9,475.1 1613.4,475.2 1610.9,475.3 1608.4,475.4 1605.9,475.6 1603.4,475.7 1600.9,475.8 1598.4,475.9 1595.9,476.0 1593.4,476.2 1590.9,476.3 1588.4,476.4 1585.9,476.5 1583.4,476.6 1580.9,476.7 1578.4,476.8 1575.9,476.9 1573.4,477.0 1570.9,477.1 1568.4,477.2 1565.9,477.3 1563.4,477.4 1560.9,477.5 1558.4,477.6 1555.9,477.7 1553.4,477.8 1550.9,477.9 1548.4,478.0 1545.9,478.1 1543.4,478.1 1540.9,478.2 1538.4,478.3 1535.9,478.4 1533.4,478.5 1530.9,478.6 1528.4,478.7 1525.9,478.7 1523.4,478.8 1520.9,478.9 1518.4,479.0 1515.9,479.1 1513.4,479.1 1510.9,479.2 1508.4,479.3 1505.9,479.4 1503.4,479.4 1500.9,479.5 1498.4,479.6 1495.9,479.7 1493.4,479.7 1490.9,479.8 1488.4,479.9 1485.9,480.0 1483.3,480.0 1480.8,480.1 1478.3,480.2 1475.8,480.3 1473.3,480.3 1470.8,480.4 1468.3,480.5 1465.8,480.5 1463.3,480.6 1460.8,480.7 1458.3,480.8 1455.8,480.8 1453.3,480.9 1450.8,481.0 1448.3,481.1 1445.8,481.1 1443.3,481.2 1440.8,481.3 1438.3,481.4 1435.8,481.4 1433.3,481.5 1430.8,481.6 1428.3,481.7 1425.8,481.8 1423.3,481.8 1420.8,481.9 1418.3,482.0 1415.8,482.1 1413.3,482.2 1410.8,482.2 1408.3,482.3 1405.8,482.4 1403.3,482.5 1400.8,482.6 1398.3,482.7 1395.8,482.8 1393.3,482.9 1390.8,483.0 1388.3,483.0 1385.8,483.1 1383.3,483.2 1380.8,483.3 1378.3,483.4 1375.8,483.5 1373.3,483.6 1370.8,483.7 1368.3,483.8 1365.8,483.9 1363.3,484.1 1360.8,484.2 1358.3,484.3 1355.8,484.4 1353.3,484.5 1350.8,484.6 1348.3,484.7 1345.8,484.9 1343.3,485.0 1340.8,485.1 1338.3,485.2 1335.8,485.3 1333.3,485.5 1330.8,485.6 1328.3,485.7 1325.8,485.9 1323.3,486.0 1320.8,486.2 1318.3,486.3 1315.8,486.4 1313.3,486.6 1310.8,486.7 1308.3,486.9 1305.8,487.0 1303.3,487.2 1300.8,487.3 1298.3,487.5 1295.8,487.7 1293.3,487.8 1290.8,488.0 1288.3,488.2 1285.8,488.3 1283.3,488.5 1280.8,488.7 1278.3,488.9 1275.8,489.1 1273.3,489.3 1270.8,489.4 1268.3,489.6 1265.8,489.8 1263.3,490.0 1260.8,490.2 1258.3,490.4 1255.8,490.6 1253.3,490.9 1250.8,491.1 1248.3,491.3 1245.8,491.5 1243.3,491.7 1240.8,492.0 1238.3,492.2 1235.8,492.4 1233.3,492.7 1230.8,492.9 1228.3,493.1 1225.8,493.4 1223.3,493.7 1220.9,494.0 1218.4,494.3 1215.9,494.7 1213.5,495.1 1211.0,495.5 1208.6,495.9 1206.2,496.4 1203.8,497.0 1201.4,497.6 1199.0,498.2 1196.7,498.9 1194.3,499.7 1192.0,500.5 1189.7,501.4 1187.4,502.3 1185.2,503.4 1183.0,504.5 1180.8,505.7 1178.6,506.9 1176.5,508.3 1174.4,509.7 1172.3,511.2 1170.3,512.7 1168.2,514.4 1166.3,516.0 1164.4,517.7 1162.5,519.5 1160.6,521.2 1158.8,523.0 1157.0,524.9 1155.3,526.7 1153.6,528.6 1152.0,530.5 1150.4,532.4 1148.8,534.4 1147.3,536.4 1145.8,538.4 1144.3,540.4 1142.9,542.4 1141.5,544.5 1140.2,546.6 1138.8,548.7 1137.5,550.8 1136.2,552.9 1135.0,555.1 1133.8,557.3 1132.6,559.4 1131.4,561.6 1130.3,563.8 1129.2,566.1 1128.1,568.3 1127.0,570.6 1125.9,572.8 1124.9,575.1 1123.9,577.4 1122.9,579.7 1121.9,582.0 1121.0,584.3 1120.0,586.6 1119.1,588.9 1118.2,591.3 1117.2,593.6 1116.3,595.9 1115.5,598.3 1114.6,600.6 1113.7,603.0 1112.9,605.3 1112.0,607.7 1111.2,610.0 1110.3,612.4 1109.5,614.8 1108.7,617.1 1107.9,619.5 1107.1,621.9 1106.3,624.3 1105.5,626.6 1104.7,629.0 1103.9,631.4 1103.2,633.8 1102.4,636.2 1101.7,638.6 1100.9,640.9 1100.2,643.3 1099.5,645.7 1098.7,648.1 1098.0,650.5 1097.3,652.9 1096.6,655.3 1095.9,657.7 1095.2,660.1 1094.6,662.5 1093.9,665.0 1093.2,667.4 1092.5,669.8 1091.9,672.2 1091.2,674.6 1090.6,677.0 1089.9,679.5 1089.3,681.9 1088.7,684.3 1088.0,686.7 1087.4,689.1 1086.8,691.6 1086.2,694.0 1085.6,696.4 1085.0,698.9 1084.4,701.3 1083.8,703.7 1083.2,706.2 1082.6,708.6 1082.0,711.0 1081.4,713.5 1080.8,715.9 1080.3,718.3 1079.7,720.8 1079.1,723.2 1078.6,725.7 1078.0,728.1 1077.4,730.5 1076.9,733.0 1076.3,735.4 1075.8,737.9 1075.2,740.3 1074.7,742.8 1074.2,745.2 1073.6,747.7 1073.1,750.1 1072.5,752.5 1072.0,755.0 1071.5,757.4 1071.0,759.9 1070.4,762.3 1069.9,764.8 1069.4,767.2 1068.9,769.7 1068.3,772.1 1067.8,774.6 1067.3,777.0 1066.8,779.5 1066.3,781.9 1065.7,784.3 1065.2,786.8 1064.7,789.2 1064.2,791.7 1063.7,794.1 1063.2,796.6 1062.6,799.0 1062.1,801.5 1061.6,803.9 1061.1,806.3 1060.6,808.8 1060.1,811.2 1059.5,813.7 1059.0,816.1 1058.5,818.5 1058.0,821.0 1057.5,823.4 1056.9,825.8 1056.4,828.3 1055.9,830.7 1055.3,833.1 1054.8,835.6 1054.2,838.0 1053.7,840.4 1053.1,842.9 1052.5,845.3 1052.0,847.7 1051.4,850.1 1050.8,852.6 1050.2,855.0 1049.6,857.4 1049.0,859.8 1048.3,862.2 1047.7,864.7 1047.0,867.1 1046.4,869.5 1045.7,871.9 1045.0,874.3 1044.3,876.7 1043.6,879.1 1042.9,881.6 1042.2,884.0 1041.4,886.4 1040.7,888.8 1039.9,891.2 1039.1,893.6 1038.3,896.0 1037.4,898.4 1036.6,900.8 1035.7,903.2 1034.9,905.6 1034.0,908.0 1033.0,910.4 1032.1,912.8 1031.1,915.2 1030.2,917.5 1029.2,919.9 1028.1,922.3 1027.1,924.7 1026.0,927.1 1025.0,929.5 1023.8,931.8 1022.7,934.2 1021.6,936.6 1020.4,939.0 1019.2,941.3 1017.9,943.7 1016.7,946.0 1015.4,948.3 1014.1,950.5 1012.7,952.6 1011.3,954.7 1009.9,956.6 1008.4,958.3 1006.9,959.9 1005.3,961.3 1003.7,962.5 1002.1,963.6 1000.4,964.3 998.6,964.9 996.8,965.1 994.9,965.1 993.0,964.8 991.0,964.2 989.0,963.4 987.0,962.4 984.9,961.2 982.8,959.8 980.8,958.4 978.7,956.8 976.6,955.2 974.6,953.6 972.6,951.9 970.6,950.2 968.7,948.5 966.8,946.8 964.9,945.0 963.0,943.2 961.1,941.5 959.3,939.7 957.5,937.8 955.7,936.0 953.9,934.2 952.2,932.3 950.5,930.5 948.7,928.6 947.0,926.7 945.4,924.8 943.7,922.9 942.0,921.0 940.4,919.1 938.7,917.2 937.1,915.2 935.5,913.3 933.9,911.4 932.2,909.4 930.6,907.5 929.0,905.5 927.5,903.6 925.9,901.7 924.3,899.7 922.7,897.8 921.1,895.8 919.5,893.9 917.9,892.0 916.3,890.0 914.7,888.1 913.1,886.2 911.5,884.3 909.9,882.4 908.3,880.5 906.6,878.6 905.0,876.7 903.3,874.9 901.7,873.0 900.0,871.2 898.3,869.3 896.6,867.5 894.9,865.7 893.2,863.9 891.4,862.2 889.6,860.4 887.9,858.7 886.0,857.0 884.2,855.3 882.4,853.6 880.5,851.9 878.6,850.3 876.7,848.7 874.7,847.1 872.8,845.5 870.8,844.0 868.8,842.4 866.7,840.9 864.7,839.4 862.6,838.0 860.5,836.6 858.4,835.2 856.3,833.8 854.1,832.4 852.0,831.1 849.8,829.8 847.6,828.5 845.4,827.3 843.1,826.1 840.9,824.9 838.6,823.7 836.4,822.6 834.1,821.5 831.8,820.4 829.5,819.4 827.1,818.4 824.8,817.4 822.4,816.5 820.1,815.6 817.7,814.7 815.3,813.8 812.9,813.0 810.5,812.2 808.1,811.5 805.7,810.8 803.3,810.1 800.9,809.4 798.4,808.8 796.0,808.3 793.5,807.7 791.1,807.2 788.6,806.8 786.2,806.3 783.7,806.0 781.2,805.6 778.8,805.3 776.3,805.0 773.8,804.8 771.3,804.6 768.9,804.4 766.4,804.3 763.9,804.2 761.4,804.2 759.0,804.2 756.5,804.2 754.0,804.3 751.5,804.4 749.1,804.5 746.6,804.7 744.1,804.9 741.7,805.2 739.2,805.5 736.8,805.8 734.3,806.1 731.9,806.5 729.4,806.9 727.0,807.4 724.6,807.9 722.2,808.4 719.7,809.0 717.3,809.6 714.9,810.2 712.5,810.8 710.1,811.5 707.8,812.2 705.4,813.0 703.0,813.8 700.7,814.6 698.4,815.4 696.0,816.3 693.7,817.2 691.4,818.2 689.1,819.1 686.8,820.1 684.6,821.2 682.3,822.2 680.1,823.3 677.8,824.5 675.6,825.6 673.4,826.8 671.2,828.0 669.0,829.2 666.9,830.5 664.7,831.8 662.6,833.1 660.5,834.4 658.4,835.8 656.3,837.2 654.3,838.6 652.2,840.1 650.2,841.6 648.2,843.1 646.2,844.6 644.2,846.1 642.2,847.7 640.3,849.3 638.3,850.9 636.4,852.5 634.5,854.2 632.6,855.8 630.8,857.5 628.9,859.2 627.1,860.9 625.2,862.7 623.4,864.4 621.6,866.2 619.8,868.0 618.0,869.8 616.3,871.6 614.5,873.4 612.8,875.2 611.1,877.1 609.4,878.9 607.7,880.8 606.0,882.7 604.3,884.6 602.7,886.5 601.0,888.4 599.4,890.3 597.8,892.2 596.2,894.1 594.6,896.0 593.0,898.0 591.4,899.9 589.8,901.9 588.3,903.8 586.8,905.8 585.2,907.8 583.7,909.8 582.2,911.8 580.7,913.8 579.2,915.8 577.8,917.8 576.3,919.8 574.9,921.8 573.4,923.9 572.0,925.9 570.6,928.0 569.2,930.0 567.8,932.1 566.4,934.1 565.0,936.2 563.6,938.3 562.3,940.4 560.9,942.5 559.6,944.6 558.3,946.7 556.9,948.8 555.6,950.9 554.3,953.0 553.0,955.1 551.8,957.3 550.5,959.4 549.2,961.6 548.0,963.7 546.7,965.9 545.5,968.0 544.2,970.2 543.0,972.3 541.8,974.5 540.6,976.7 539.4,978.9 538.2,981.1 537.0,983.3 535.8,985.5 534.7,987.7 533.5,989.9 532.3,992.1 531.2,994.3 530.0,996.5 528.9,998.7 527.8,1001.0 526.7,1003.2 525.5,1005.4 524.4,1007.7 523.3,1009.9 522.2,1012.1 521.1,1014.4 520.1,1016.7 519.0,1018.9 517.9,1021.2 516.8,1023.4 515.8,1025.7 514.7,1028.0 513.7,1030.2 512.6,1032.5 511.6,1034.8 510.6,1037.1 509.5,1039.4 508.5,1041.6 507.5,1043.9 506.5,1046.2 505.5,1048.5 504.4,1050.8 503.4,1053.1 502.4,1055.4 501.4,1057.7 500.5,1060.0 499.5,1062.3 498.5,1064.6 497.5,1066.9 496.5,1069.3 495.6,1071.6 494.6,1073.9 493.6,1076.2 492.7,1078.5 491.7,1080.8 490.8,1083.2 489.8,1085.5 488.9,1087.8 487.9,1090.1 487.0,1092.5 486.0,1094.8 485.1,1097.1 484.1,1099.4 483.2,1101.8 482.3,1104.1 481.3,1106.4 480.4,1108.8 479.5,1111.1 478.6,1113.4 477.6,1115.7 476.7,1118.1 475.8,1120.4 474.9,1122.8 474.0,1125.1 473.1,1127.4 472.2,1129.8 471.3,1132.1 470.4,1134.4 469.5,1136.8 468.6,1139.1 467.7,1141.5 466.8,1143.8 465.9,1146.2 465.0,1148.5 464.2,1150.8 463.3,1153.2 462.4,1155.5 461.5,1157.9 460.7,1160.2 459.8,1162.6 459.0,1164.9 458.1,1167.3 457.2,1169.6 456.4,1172.0 455.6,1174.4 454.7,1176.7 453.9,1179.1 453.0,1181.4 452.2,1183.8 451.4,1186.2 450.6,1188.5 449.8,1190.9 448.9,1193.2 448.1,1195.6 447.3,1198.0 446.5,1200.3 445.7,1202.7 444.9,1205.1 444.2,1207.5 443.4,1209.8 442.6,1212.2 441.8,1214.6 441.1,1217.0 440.3,1219.3 439.5,1221.7 438.8,1224.1 438.0,1226.5 437.3,1228.9 436.5,1231.3 435.8,1233.6 435.1,1236.0 434.4,1238.4 433.6,1240.8 432.9,1243.2 432.2,1245.6 431.5,1248.0 430.8,1250.4 430.1,1252.8 429.4,1255.2 428.8,1257.6 428.1,1260.0 427.4,1262.4 426.7,1264.8 426.1,1267.2 425.4,1269.6 424.8,1272.0 424.1,1274.5 423.5,1276.9 422.9,1279.3 422.3,1281.7 421.6,1284.1 421.0,1286.6 420.4,1289.0 419.8,1291.4 419.2,1293.8 418.6,1296.3 418.1,1298.7 417.5,1301.1 416.9,1303.5 416.4,1306.0 415.8,1308.4 415.3,1310.9 414.7,1313.3 414.2,1315.7 413.7,1318.2 413.1,1320.6 412.6,1323.1 412.1,1325.5 411.6,1328.0 411.1,1330.4 410.6,1332.9 410.2,1335.4 409.7,1337.8 409.2,1340.3 408.8,1342.7 408.3,1345.2 407.9,1347.7 407.4,1350.1 407.0,1352.6 406.6,1355.1 406.2,1357.6 405.8,1360.0 405.4,1362.5 405.0,1365.0"/>
</g>
<rect x="407.7" y="44.0" width="1620.6" height="1307.0" fill="none" stroke="#000" stroke-width="5" stroke-linejoin="miter"/>
<path d="M380,72.2H407.7 M393,143.3H407.7 M380,214.3H407.7 M393,285.3H407.7 M380,356.3H407.7 M393,427.4H407.7 M380,498.4H407.7 M393,569.4H407.7 M380,640.5H407.7 M393,711.5H407.7 M380,782.5H407.7 M393,853.5H407.7 M380,924.5H407.7 M393,995.6H407.7 M380,1066.6H407.7 M393,1137.6H407.7 M380,1208.7H407.7 M393,1279.7H407.7 M380,1350.7H407.7 M517.3,1351.0V1378 M723.4,1351.0V1378 M929.4,1351.0V1378 M1135.5,1351.0V1378 M1341.6,1351.0V1378 M1547.6,1351.0V1378 M1753.7,1351.0V1378 M1959.8,1351.0V1378 M414.3,1351.0V1365 M620.3,1351.0V1365 M826.4,1351.0V1365 M1032.5,1351.0V1365 M1238.5,1351.0V1365 M1444.6,1351.0V1365 M1650.7,1351.0V1365 M1856.8,1351.0V1365" stroke="#000" stroke-width="5" fill="none"/>
<g font-size="80" text-anchor="end" fill="#000">
<text x="365" y="94.7">75</text>
<text x="365" y="236.8">50</text>
<text x="365" y="378.8">25</text>
<text x="365" y="520.9">0</text>
<text x="365" y="663.0">−25</text>
<text x="365" y="805.0">−50</text>
<text x="365" y="947.0">−75</text>
<text x="365" y="1089.1">−100</text>
<text x="365" y="1231.2">−125</text>
<text x="365" y="1373.2">−150</text>
</g>
<g font-size="80" text-anchor="middle" fill="#000">
<text x="515.8" y="1456">0.90</text>
<text x="721.9" y="1456">0.75</text>
<text x="927.9" y="1456">0.60</text>
<text x="1134.0" y="1456">0.45</text>
<text x="1340.1" y="1456">0.30</text>
<text x="1546.1" y="1456">0.15</text>
<text x="1752.2" y="1456">0.00</text>
<text x="1949.5" y="1456">−0.15</text>
</g>
<text transform="translate(932,1603.7) scale(0.953,1)" font-size="101" font-weight="bold" font-style="italic" fill="#000">E <tspan font-weight="normal">(</tspan>V<tspan font-weight="normal">)</tspan> vs SCE</text>
<text transform="translate(96.5,1023) rotate(-90) scale(0.953,1)" font-size="101.5" font-weight="bold" font-style="italic" fill="#000">Current, <tspan font-weight="normal" font-family="Liberation Serif,serif">μ</tspan>A</text>
<path d="M1284,878.7H1436" stroke="#000000" stroke-width="10" stroke-linecap="round"/>
<text transform="translate(1454,901.6) scale(0.95,1)" font-size="71.5">CP</text>
<path d="M1284,962.0H1436" stroke="#ff0000" stroke-width="10" stroke-linecap="round"/>
<text transform="translate(1454,984.5) scale(0.95,1)" font-size="71.5">CP-MoS<tspan font-size="40" dy="23">2</tspan><tspan dy="-23"></tspan></text>
<path d="M1284,1065.0H1436" stroke="#0000ff" stroke-width="10" stroke-linecap="round"/>
<text transform="translate(1454,1087.6) scale(0.95,1)" font-size="71.5">CP-MoS<tspan font-size="40" dy="23">2</tspan><tspan dy="-23">-TvL</tspan></text>
<path d="M1284,1167.8H1436" stroke="#ff8000" stroke-width="10" stroke-linecap="round"/>
<text transform="translate(1454,1190.3) scale(0.95,1)" font-size="71.5">CP-MoS<tspan font-size="40" dy="23">2</tspan><tspan dy="-23">-LacI</tspan></text>
<path d="M1284,1270.5H1436" stroke="#008000" stroke-width="10" stroke-linecap="round"/>
<text transform="translate(1454,1293.0) scale(0.95,1)" font-size="71.5">CP-MoS<tspan font-size="40" dy="23">2</tspan><tspan dy="-23">-LacII</tspan></text>
</svg></body></html>
